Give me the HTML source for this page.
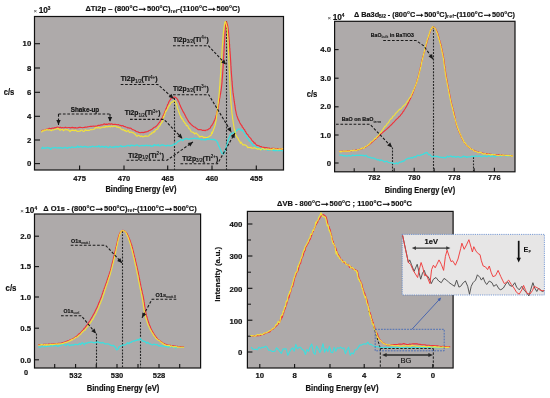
<!DOCTYPE html><html><head><meta charset="utf-8"><title>XPS difference spectra</title>
<style>html,body{margin:0;padding:0;background:#fff}svg{display:block;font-family:"Liberation Sans",sans-serif}</style></head><body>
<svg width="550" height="398" viewBox="0 0 550 398">
<rect width="550" height="398" fill="#fff"/>
<rect x="34.5" y="16.5" width="249.0" height="153.5" fill="#aeaaaa" stroke="#111" stroke-width="1.2"/>
<line x1="34.5" y1="163.6" x2="40.0" y2="163.6" stroke="#111" stroke-width="1.1"/>
<text x="31.3" y="166.29999999999998" font-size="7.8" text-anchor="end" font-weight="bold" fill="#111" stroke="#111" stroke-width="0.18" >0</text>
<line x1="34.5" y1="140" x2="40.0" y2="140" stroke="#111" stroke-width="1.1"/>
<text x="31.3" y="142.7" font-size="7.8" text-anchor="end" font-weight="bold" fill="#111" stroke="#111" stroke-width="0.18" >2</text>
<line x1="34.5" y1="116.3" x2="40.0" y2="116.3" stroke="#111" stroke-width="1.1"/>
<text x="31.3" y="119.0" font-size="7.8" text-anchor="end" font-weight="bold" fill="#111" stroke="#111" stroke-width="0.18" >4</text>
<line x1="34.5" y1="92.3" x2="40.0" y2="92.3" stroke="#111" stroke-width="1.1"/>
<text x="31.3" y="95.0" font-size="7.8" text-anchor="end" font-weight="bold" fill="#111" stroke="#111" stroke-width="0.18" >6</text>
<line x1="34.5" y1="68" x2="40.0" y2="68" stroke="#111" stroke-width="1.1"/>
<text x="31.3" y="70.7" font-size="7.8" text-anchor="end" font-weight="bold" fill="#111" stroke="#111" stroke-width="0.18" >8</text>
<line x1="34.5" y1="43.7" x2="40.0" y2="43.7" stroke="#111" stroke-width="1.1"/>
<text x="31.3" y="46.400000000000006" font-size="7.8" text-anchor="end" font-weight="bold" fill="#111" stroke="#111" stroke-width="0.18" >10</text>
<line x1="79.6" y1="170" x2="79.6" y2="165.5" stroke="#111" stroke-width="1.1"/>
<text x="79.6" y="180.6" font-size="7.8" text-anchor="middle" font-weight="bold" fill="#111" stroke="#111" stroke-width="0.18" textLength="12.6" lengthAdjust="spacingAndGlyphs" >475</text>
<line x1="124" y1="170" x2="124" y2="165.5" stroke="#111" stroke-width="1.1"/>
<text x="124" y="180.6" font-size="7.8" text-anchor="middle" font-weight="bold" fill="#111" stroke="#111" stroke-width="0.18" textLength="12.6" lengthAdjust="spacingAndGlyphs" >470</text>
<line x1="167.7" y1="170" x2="167.7" y2="165.5" stroke="#111" stroke-width="1.1"/>
<text x="167.7" y="180.6" font-size="7.8" text-anchor="middle" font-weight="bold" fill="#111" stroke="#111" stroke-width="0.18" textLength="12.6" lengthAdjust="spacingAndGlyphs" >465</text>
<line x1="212" y1="170" x2="212" y2="165.5" stroke="#111" stroke-width="1.1"/>
<text x="212" y="180.6" font-size="7.8" text-anchor="middle" font-weight="bold" fill="#111" stroke="#111" stroke-width="0.18" textLength="12.6" lengthAdjust="spacingAndGlyphs" >460</text>
<line x1="256.3" y1="170" x2="256.3" y2="165.5" stroke="#111" stroke-width="1.1"/>
<text x="256.3" y="180.6" font-size="7.8" text-anchor="middle" font-weight="bold" fill="#111" stroke="#111" stroke-width="0.18" textLength="12.6" lengthAdjust="spacingAndGlyphs" >455</text>
<text x="141" y="192" font-size="8.2" text-anchor="middle" font-weight="bold" fill="#111" stroke="#111" stroke-width="0.18" textLength="71" lengthAdjust="spacingAndGlyphs" >Binding Energy (eV)</text>
<text x="9" y="95.2" font-size="8.8" text-anchor="middle" font-weight="bold" fill="#111" stroke="#111" stroke-width="0.18" textLength="10.6" lengthAdjust="spacingAndGlyphs" >c/s</text>
<text x="33.6" y="13.3" font-size="8.3" font-weight="bold" fill="#111" stroke="#111" stroke-width="0.15"><tspan font-size="6.2" font-weight="normal" stroke="none" fill="#333">×</tspan><tspan dx="1.4">10</tspan><tspan font-size="4.8" dy="-3">3</tspan></text>
<text x="162.7" y="11.2" font-size="7.6" text-anchor="middle" font-weight="bold" fill="#111" stroke="#111" stroke-width="0.18" textLength="154.5" lengthAdjust="spacingAndGlyphs" >ΔTi2p – (800°C<tspan font-size="11.5" dx="-1.1" stroke-width="0.45">→</tspan><tspan dx="-1.1">5</tspan>00°C)<tspan font-size="5.6" dy="1.4" stroke-width="0" fill="#111">ref</tspan><tspan dy="-1.4">-(1100°C<tspan font-size="11.5" dx="-1.1" stroke-width="0.45">→</tspan><tspan dx="-1.1">5</tspan>00°C)</tspan></text>
<line x1="174.5" y1="98" x2="174.5" y2="170" stroke="#262626" stroke-width="1.1" stroke-dasharray="1.9 1.3"/>
<line x1="226.5" y1="21" x2="226.5" y2="170" stroke="#262626" stroke-width="1.1" stroke-dasharray="1.9 1.3"/>
<polyline points="41.5,149.1 42.5,147.3 43.5,148.4 44.5,148.0 45.5,148.0 46.5,148.1 47.5,147.4 48.5,148.0 49.6,147.8 50.6,149.4 51.6,148.1 52.6,147.9 53.6,147.9 54.6,147.7 55.6,147.5 56.6,147.8 57.6,148.1 58.6,147.7 59.6,148.2 60.6,147.7 61.6,147.8 62.6,148.3 63.6,147.9 64.7,147.4 65.7,147.5 66.7,147.8 67.7,148.3 68.7,147.3 69.7,147.3 70.7,147.8 71.7,147.0 72.7,147.2 73.7,147.6 74.7,147.4 75.7,147.2 76.7,147.4 77.7,145.9 78.7,147.4 79.7,146.6 80.8,146.3 81.8,147.0 82.8,147.2 83.8,146.7 84.8,146.4 85.8,146.8 86.8,146.7 87.8,147.3 88.8,147.0 89.8,146.7 90.8,147.1 91.8,146.5 92.8,146.2 93.8,146.8 94.9,146.8 95.9,146.5 96.9,146.3 97.9,146.8 98.9,145.7 99.9,147.0 100.9,147.0 101.9,146.2 102.9,147.0 103.9,146.6 104.9,147.4 105.9,146.3 106.9,146.8 107.9,147.5 108.9,147.7 109.9,146.3 111.0,147.0 112.0,147.3 113.0,146.8 114.0,147.6 115.0,146.4 116.0,147.0 117.0,146.3 118.0,147.2 119.0,146.5 120.0,146.3 121.0,145.6 122.0,146.9 123.0,146.4 124.0,146.4 125.0,146.5 126.0,146.1 127.0,145.7 128.0,145.5 129.0,145.5 130.0,146.3 131.0,145.2 132.1,145.5 133.1,145.5 134.1,145.7 135.1,145.8 136.1,145.1 137.1,144.9 138.1,145.5 139.1,146.0 140.1,145.8 141.1,145.6 142.1,145.4 143.1,145.6 144.1,145.4 145.1,145.8 146.2,145.1 147.2,145.5 148.2,145.4 149.2,145.7 150.2,145.5 151.2,146.5 152.2,146.0 153.2,146.0 154.2,144.6 155.2,145.3 156.2,145.2 157.2,145.6 158.2,144.5 159.2,145.9 160.3,145.8 161.3,144.9 162.3,145.0 163.3,145.0 164.3,145.4 165.3,145.6 166.3,146.1 167.3,145.2 168.3,145.6 169.3,145.3 170.3,145.9 171.3,145.4 172.4,145.5 173.3,144.4 174.2,144.4 175.1,143.6 175.9,143.9 176.7,142.9 177.5,141.9 178.3,141.2 179.2,141.1 180.1,140.2 181.0,139.7 182.0,140.0 182.9,140.6 183.9,139.4 184.9,139.1 185.9,138.7 187.0,138.6 188.0,139.2 189.0,139.3 190.0,138.8 191.0,138.9 192.0,138.7 193.0,138.7 194.0,138.0 195.0,138.4 196.0,138.7 197.0,138.4 198.0,138.7 199.0,138.8 200.0,139.2 201.0,139.8 202.0,139.4 203.0,139.5 204.0,139.9 205.0,139.7 206.0,140.0 207.0,138.3 208.0,139.4 209.0,138.8 210.0,139.1 211.1,139.4 212.1,139.5 213.1,139.5 214.0,139.3 214.9,140.2 215.8,140.1 216.5,140.9 217.1,142.1 217.6,142.4 218.0,144.4 218.5,144.9 218.8,146.3 219.2,146.4 219.5,147.2 219.9,148.3 220.3,149.5 220.6,149.9 221.0,151.3 221.5,152.0 222.1,153.5 222.9,153.4 223.6,154.1 224.1,152.7 224.6,151.5 225.1,150.6 225.4,149.4 225.7,149.0 226.0,148.4 226.2,147.1 226.5,146.3 226.8,145.7 227.0,144.2 227.3,143.2 227.6,142.0 227.9,140.5 228.2,140.5 228.5,138.6 228.8,138.6 229.2,137.3 229.6,136.8 230.0,135.5 230.5,134.3 231.2,134.0 232.0,133.1 233.0,132.9 233.9,132.6 234.8,132.2 235.7,131.6 236.4,130.7 237.3,130.3 238.1,128.9 239.0,129.4 240.1,129.1 241.1,130.3 242.0,130.7 242.7,129.9 243.4,131.6 243.9,132.4 244.5,132.9 245.0,134.4 245.5,134.8 246.0,135.2 246.5,136.7 247.1,137.5 247.7,138.5 248.3,138.8 248.9,140.3 249.5,141.1 250.2,141.2 250.8,142.1 251.5,143.1 252.2,143.6 253.0,145.2 253.8,145.3 254.5,145.4 255.4,146.1 256.2,146.9 257.1,148.3 258.0,147.7 259.0,148.1 260.0,148.6 260.9,148.6 261.9,149.7 262.9,148.8 263.9,149.4 264.9,149.3 265.9,149.6 266.9,149.0 267.9,150.3 268.9,149.7 269.9,149.9 270.9,149.6 271.9,149.7 272.9,150.3 273.9,150.5 274.9,150.5 275.9,150.7 277.0,150.5 278.0,150.3 279.0,150.7 280.0,150.6 281.0,150.3 282.0,150.7 283.0,150.9" fill="none" stroke="#3fdede" stroke-width="1.3" stroke-linejoin="round" />
<polyline points="41.5,130.6 42.5,130.2 43.4,130.2 44.4,130.2 45.4,129.5 46.4,129.3 47.4,129.1 48.3,129.2 49.3,128.3 50.3,128.6 51.3,128.6 52.3,128.0 53.3,128.3 54.3,127.9 55.3,127.5 56.3,127.6 57.3,127.1 58.3,127.3 59.3,127.8 60.3,127.2 61.3,127.9 62.3,127.5 63.3,127.8 64.3,127.7 65.3,127.2 66.3,127.6 67.3,127.8 68.3,127.5 69.3,127.5 70.3,127.9 71.3,127.6 72.3,127.4 73.3,127.6 74.3,127.9 75.3,127.6 76.3,127.9 77.3,128.0 78.3,127.6 79.3,127.4 80.3,127.3 81.4,127.5 82.4,127.7 83.4,127.5 84.4,127.4 85.4,127.1 86.4,127.2 87.4,126.9 88.4,126.8 89.4,126.5 90.4,126.3 91.4,126.4 92.3,126.2 93.3,126.1 94.3,126.3 95.3,126.0 96.3,126.5 97.3,125.8 98.3,125.3 99.3,125.4 100.3,125.1 101.2,124.7 102.2,124.9 103.2,124.4 104.2,123.8 105.2,124.5 106.2,124.1 107.2,124.4 108.2,123.9 109.2,123.7 110.2,124.3 111.2,123.8 112.2,124.1 113.2,124.5 114.3,124.3 115.3,124.4 116.3,124.5 117.3,124.8 118.2,124.6 119.2,125.1 120.2,125.2 121.2,125.9 122.1,125.6 123.1,125.8 124.0,126.5 125.0,126.6 125.9,127.0 126.9,127.3 127.8,127.9 128.8,127.8 129.7,128.3 130.7,128.1 131.6,128.8 132.5,129.7 133.5,129.7 134.4,130.2 135.3,130.6 136.2,131.5 137.1,131.8 138.1,131.9 139.0,132.5 140.0,132.6 140.9,132.7 142.0,132.3 143.0,132.7 144.0,132.4 145.0,132.1 146.0,131.9 146.9,131.7 147.8,131.5 148.7,130.7 149.6,130.5 150.5,129.9 151.4,129.6 152.3,129.0 153.1,128.3 154.0,127.4 154.8,127.3 155.6,126.8 156.4,126.0 157.1,125.4 157.8,124.5 158.4,123.7 159.0,122.8 159.6,122.5 160.1,121.3 160.6,120.3 161.1,119.3 161.6,118.7 162.1,118.1 162.6,117.0 163.0,115.9 163.4,115.4 163.8,114.5 164.2,113.5 164.6,112.5 165.0,111.6 165.3,110.6 165.7,109.7 166.1,108.4 166.5,108.0 166.8,106.8 167.2,106.2 167.6,104.4 168.0,104.1 168.4,103.2 168.8,102.0 169.2,101.3 169.7,100.5 170.3,99.6 170.9,98.6 171.7,98.0 172.5,97.7 173.4,97.3 174.4,97.0 175.4,97.3 176.2,97.9 176.9,98.7 177.4,99.2 177.9,100.1 178.3,101.3 178.8,101.9 179.2,102.9 179.6,104.0 180.0,105.0 180.3,105.6 180.7,107.0 181.1,107.3 181.5,108.7 181.9,109.2 182.4,110.1 182.9,111.4 183.4,112.1 183.9,112.9 184.4,113.8 184.9,114.9 185.4,115.7 185.8,116.6 186.2,117.7 186.7,118.2 187.2,119.2 187.7,120.0 188.3,121.2 188.9,122.0 189.5,122.8 190.1,123.3 190.8,124.0 191.5,124.9 192.3,125.3 193.1,126.2 193.9,126.7 194.8,127.0 195.6,127.7 196.5,128.2 197.4,129.1 198.3,129.7 199.2,129.5 200.2,129.8 201.1,129.6 202.1,130.4 203.1,130.4 204.1,130.2 205.1,130.7 206.1,130.0 207.1,130.0 208.0,129.6 208.8,128.8 209.6,128.6 210.3,127.9 210.9,126.5 211.5,125.7 212.0,125.3 212.6,124.3 213.1,123.2 213.5,122.5 213.9,121.6 214.3,120.7 214.7,120.0 215.1,118.9 215.4,118.3 215.7,117.2 216.0,116.1 216.3,115.3 216.6,114.3 216.8,113.2 217.1,111.8 217.3,111.3 217.5,110.2 217.8,109.5 218.0,108.2 218.2,107.3 218.3,106.3 218.5,105.6 218.7,104.3 218.9,103.2 219.0,102.3 219.2,101.2 219.4,100.3 219.5,99.3 219.7,98.4 219.9,97.7 220.1,96.2 220.2,95.3 220.4,94.3 220.6,93.5 220.8,92.1 220.9,91.2 221.1,90.4 221.2,89.5 221.4,88.4 221.5,87.3 221.6,86.2 221.7,85.5 221.8,84.7 221.9,83.5 222.0,82.5 222.1,81.5 222.1,80.2 222.2,79.3 222.3,78.3 222.4,77.5 222.5,76.4 222.5,75.1 222.6,74.6 222.7,73.8 222.7,72.3 222.8,71.5 222.9,70.4 222.9,69.6 223.0,68.1 223.1,67.7 223.1,66.3 223.2,65.7 223.2,64.4 223.3,63.3 223.4,62.3 223.4,61.6 223.5,60.2 223.5,59.3 223.6,58.3 223.6,57.0 223.7,56.6 223.8,55.5 223.8,54.3 223.9,53.6 223.9,52.1 224.0,51.3 224.0,50.7 224.1,49.6 224.1,47.8 224.2,46.6 224.3,46.1 224.3,45.6 224.4,44.2 224.4,43.3 224.5,42.5 224.5,41.1 224.6,40.4 224.6,39.5 224.7,38.4 224.7,37.4 224.8,36.2 224.8,35.4 224.9,34.2 225.0,33.6 225.1,32.9 225.1,31.1 225.2,29.8 225.3,29.1 225.4,28.0 225.5,26.8 225.6,25.5 225.7,23.9 225.9,22.9 226.0,22.6 226.2,21.6 226.4,22.2 226.8,22.7 227.2,24.1 227.5,25.2 227.7,26.2 227.9,27.2 228.0,27.8 228.1,29.0 228.3,30.0 228.4,31.1 228.5,32.3 228.6,32.9 228.7,33.8 228.7,34.9 228.8,36.0 228.9,37.2 229.0,37.8 229.1,39.3 229.2,40.1 229.3,41.0 229.3,41.7 229.4,43.1 229.5,44.2 229.6,44.6 229.6,46.3 229.7,47.4 229.8,48.1 229.9,49.1 229.9,50.6 230.0,51.3 230.1,51.8 230.1,53.0 230.2,54.0 230.3,55.0 230.3,55.5 230.4,57.2 230.5,57.9 230.5,59.1 230.6,60.0 230.7,61.3 230.7,62.0 230.8,62.9 230.8,64.2 230.9,65.4 231.0,66.0 231.0,67.4 231.1,68.1 231.1,69.0 231.2,70.4 231.3,70.9 231.3,72.3 231.4,73.0 231.5,74.2 231.5,74.8 231.6,75.9 231.7,77.3 231.8,78.1 231.8,79.1 231.9,80.0 232.0,81.2 232.1,81.8 232.2,82.9 232.2,84.1 232.3,84.9 232.4,85.9 232.5,87.1 232.6,88.1 232.7,89.0 232.8,90.5 232.9,91.3 233.0,92.4 233.1,93.1 233.2,94.0 233.4,94.8 233.5,96.0 233.6,96.6 233.8,97.9 233.9,99.2 234.1,100.4 234.2,101.3 234.4,101.9 234.5,103.1 234.7,103.9 234.8,105.2 235.0,106.0 235.1,107.2 235.3,108.6 235.4,109.2 235.6,110.5 235.8,111.0 236.0,111.9 236.2,113.2 236.4,114.3 236.7,114.8 236.9,115.9 237.2,116.5 237.6,117.7 238.0,118.9 238.4,119.6 238.8,120.4 239.2,121.1 239.7,122.4 240.2,123.4 240.7,124.2 241.2,125.0 241.8,125.5 242.3,127.0 242.8,127.4 243.4,128.3 243.9,129.3 244.5,129.5 245.0,130.8 245.6,131.6 246.1,132.6 246.7,133.7 247.2,134.3 247.8,134.6 248.4,135.7 249.0,136.6 249.7,137.4 250.3,137.9 250.9,138.6 251.6,139.8 252.2,140.6 252.8,141.3 253.5,141.7 254.2,143.2 254.9,142.9 255.6,144.0 256.5,145.1 257.4,145.2 258.3,145.7 259.2,145.8 260.1,146.7 261.1,146.5 262.0,147.1 263.0,147.3 264.0,147.3 265.0,147.9 266.0,147.5 267.0,147.8 268.0,148.1 269.0,148.1 270.0,148.4 271.0,148.5 272.0,148.3 273.0,148.3 274.0,148.4 275.0,148.5 276.0,148.8 277.0,148.6 278.0,148.8 279.0,148.8 280.0,148.6 281.0,149.0 282.0,148.7 283.0,148.9" fill="none" stroke="#f0323a" stroke-width="1.15" stroke-linejoin="round" />
<polyline points="41.5,132.3 42.6,130.7 43.7,131.0 44.8,129.9 45.8,130.3 46.9,129.6 48.0,130.1 49.1,129.8 50.2,130.0 51.3,130.7 52.4,129.9 53.5,130.0 54.6,129.5 55.7,129.3 56.8,128.9 57.9,128.3 59.0,129.3 60.1,130.3 61.2,129.7 62.3,129.3 63.4,130.7 64.5,129.7 65.6,129.8 66.7,129.6 67.8,129.9 68.9,130.3 70.0,131.6 71.1,130.5 72.2,130.1 73.3,130.4 74.4,130.7 75.5,130.0 76.6,131.0 77.7,131.4 78.8,131.2 79.9,131.3 81.0,130.3 82.1,130.0 83.2,131.5 84.3,131.3 85.4,129.7 86.5,130.5 87.6,130.3 88.7,130.4 89.8,130.1 90.9,129.5 92.0,129.7 93.1,129.5 94.2,129.2 95.3,128.0 96.3,127.2 97.4,128.1 98.5,127.4 99.6,128.1 100.6,128.1 101.7,127.6 102.8,127.0 103.9,127.1 105.0,127.4 106.0,126.2 107.1,126.9 108.2,126.6 109.3,126.3 110.4,127.0 111.5,125.9 112.7,126.9 113.8,125.9 114.8,126.2 115.9,126.2 117.0,127.3 118.0,126.9 119.1,127.8 120.1,127.6 121.2,129.1 122.2,129.9 123.2,129.4 124.3,130.6 125.3,130.4 126.3,131.7 127.4,131.0 128.4,130.5 129.4,132.6 130.4,132.1 131.4,132.0 132.4,132.7 133.4,132.7 134.4,134.0 135.4,134.1 136.3,136.0 137.3,136.1 138.3,135.2 139.4,135.8 140.4,136.6 141.5,135.9 142.6,136.8 143.7,136.7 144.8,136.1 145.9,135.9 146.9,136.2 147.9,136.2 148.9,135.7 149.9,134.4 150.8,134.3 151.8,132.9 152.8,133.0 153.7,131.6 154.6,131.9 155.4,130.1 156.3,129.5 157.0,129.3 157.8,128.8 158.5,126.8 159.1,126.4 159.7,125.9 160.3,125.0 160.9,123.4 161.5,123.0 162.0,121.8 162.5,121.8 162.9,120.3 163.2,118.2 163.5,116.6 163.8,116.8 164.1,116.4 164.4,114.8 164.9,114.1 165.3,112.4 165.8,110.9 166.4,111.1 166.9,109.8 167.5,109.2 168.0,107.0 168.6,106.9 169.1,105.5 169.7,105.4 170.3,103.7 171.0,102.8 171.7,102.0 172.5,102.2 173.5,100.9 174.5,100.8 175.3,101.4 175.8,102.2 176.2,104.6 176.6,103.9 176.9,105.6 177.2,107.5 177.6,108.8 178.0,109.2 178.4,110.7 178.8,111.7 179.1,112.9 179.5,113.4 180.0,115.3 180.4,115.5 180.8,117.3 181.3,116.8 181.8,119.0 182.3,118.7 182.9,119.5 183.5,121.5 184.2,121.7 184.9,123.2 185.6,123.2 186.3,125.6 187.0,125.6 187.7,125.8 188.4,127.4 189.0,128.7 189.7,128.7 190.4,130.2 191.2,131.8 192.0,132.0 192.8,132.2 193.7,132.6 194.6,133.9 195.5,133.3 196.5,133.0 197.5,134.8 198.5,135.0 199.5,137.0 200.5,136.6 201.5,136.4 202.6,136.5 203.7,137.7 204.8,137.2 205.9,137.4 206.9,137.5 208.0,137.1 209.0,136.5 209.8,135.9 210.5,135.7 211.2,135.0 211.8,132.2 212.3,133.5 212.8,131.2 213.3,130.8 213.7,128.7 214.1,128.3 214.5,127.2 214.8,126.0 215.1,125.4 215.4,124.2 215.6,122.2 215.8,121.6 216.0,121.0 216.2,119.9 216.4,118.2 216.5,117.2 216.7,116.1 216.8,114.5 216.9,113.3 217.0,113.8 217.2,111.6 217.3,110.8 217.4,109.2 217.5,109.2 217.6,108.4 217.7,106.2 217.9,105.5 218.0,103.7 218.1,104.0 218.3,102.5 218.4,100.4 218.5,100.4 218.6,98.9 218.8,97.8 218.9,96.7 219.0,95.0 219.1,94.0 219.2,93.5 219.3,92.0 219.4,90.4 219.4,91.0 219.5,88.6 219.6,87.3 219.7,86.2 219.8,85.8 219.9,84.9 219.9,83.4 220.0,82.6 220.1,80.2 220.2,79.7 220.2,78.6 220.3,77.7 220.4,76.9 220.5,74.4 220.5,76.1 220.6,72.8 220.7,72.4 220.8,71.6 220.8,70.5 220.9,69.0 221.0,66.2 221.0,66.1 221.1,66.0 221.2,64.0 221.3,62.8 221.3,61.0 221.4,61.9 221.5,60.4 221.5,58.5 221.6,57.8 221.7,56.7 221.8,55.0 221.8,54.4 221.9,53.6 222.0,52.7 222.0,51.9 222.1,50.2 222.2,48.8 222.3,48.2 222.3,46.5 222.4,45.0 222.5,45.3 222.6,43.3 222.7,42.5 222.8,41.7 222.8,39.6 222.9,39.5 223.0,38.3 223.1,36.9 223.2,36.0 223.3,34.3 223.4,32.4 223.5,32.4 223.6,30.9 223.7,30.8 223.8,29.4 224.0,27.8 224.1,26.9 224.3,26.2 224.5,24.7 224.8,23.0 225.0,22.2 225.3,21.5 225.7,22.1 226.1,23.7 226.4,24.6 226.6,25.9 226.8,26.2 226.9,27.0 227.1,28.1 227.2,29.9 227.3,32.0 227.4,33.0 227.5,32.9 227.6,33.7 227.6,36.1 227.7,37.0 227.8,37.1 227.9,39.6 227.9,40.2 228.0,41.9 228.1,42.5 228.1,43.9 228.2,44.7 228.2,45.1 228.3,46.6 228.3,47.4 228.4,49.4 228.4,49.5 228.5,50.3 228.5,52.6 228.6,54.0 228.6,55.2 228.7,56.1 228.7,55.8 228.8,57.4 228.8,58.6 228.9,59.9 228.9,59.9 229.0,62.2 229.0,63.4 229.1,63.8 229.1,65.5 229.2,67.2 229.2,67.7 229.3,69.4 229.3,70.4 229.4,71.2 229.4,72.3 229.5,73.0 229.5,75.0 229.6,75.2 229.6,76.1 229.7,78.0 229.7,78.3 229.7,80.1 229.8,81.5 229.8,82.1 229.9,83.2 229.9,84.7 230.0,85.8 230.0,85.6 230.1,86.8 230.1,89.4 230.2,90.0 230.2,89.7 230.3,91.2 230.4,93.1 230.4,93.6 230.5,95.5 230.6,96.4 230.7,97.7 230.7,97.9 230.8,100.0 230.9,101.9 231.0,101.4 231.1,103.7 231.2,104.6 231.3,105.5 231.4,106.3 231.5,106.8 231.6,108.0 231.7,110.0 231.8,111.2 231.9,112.5 232.0,113.4 232.1,114.5 232.2,114.9 232.4,115.5 232.5,117.4 232.6,118.7 232.8,119.5 232.9,119.7 233.1,121.4 233.2,121.9 233.4,123.9 233.6,124.4 233.8,126.0 234.0,127.3 234.2,128.3 234.5,130.1 234.7,129.8 235.0,130.2 235.3,133.0 235.6,134.3 235.9,135.4 236.4,135.8 236.8,136.9 237.3,137.7 237.8,137.9 238.4,139.2 239.0,140.7 239.7,141.0 240.4,143.3 241.2,142.2 242.0,143.5 242.9,145.0 243.8,144.7 244.8,144.9 245.8,145.3 246.8,146.0 247.8,147.6 248.9,147.3 250.0,147.7 251.0,147.4 252.1,148.3 253.2,148.1 254.3,147.7 255.4,148.1 256.5,148.6 257.6,149.2 258.7,148.7 259.8,149.1 260.9,150.0 262.0,148.5 263.1,148.3 264.2,149.6 265.3,149.3 266.4,149.1 267.5,149.3 268.6,149.0 269.7,149.5 270.8,149.0 272.0,149.7 273.1,148.6 274.2,148.8 275.3,149.3 276.4,149.0 277.5,149.6 278.6,149.2 279.7,148.9 280.8,149.3 281.9,148.9 283.0,148.4" fill="none" stroke="#f2e23a" stroke-width="1.15" stroke-linejoin="round" />
<text x="173" y="41.6" font-size="7.1" text-anchor="start" font-weight="bold" fill="#111" stroke="#111" stroke-width="0.18" textLength="35.7" lengthAdjust="spacingAndGlyphs" >Ti2p<tspan font-size="4.8" dy="1.4" stroke-width="0">3/2</tspan><tspan dy="-1.4">(Ti</tspan><tspan font-size="4.8" dy="-2.6" stroke-width="0">4+</tspan><tspan dy="2.6">)</tspan></text>
<polyline points="173.0,45.8 208.5,45.8 226.0,64.6" fill="none" stroke="#1a1a1a" stroke-width="1.1" stroke-dasharray="2.7 1.7"/>
<polygon points="226.0,64.6 221.1,62.5 224.3,59.6" fill="#1a1a1a"/>
<text x="120.7" y="81.2" font-size="7.1" text-anchor="start" font-weight="bold" fill="#111" stroke="#111" stroke-width="0.18" textLength="37" lengthAdjust="spacingAndGlyphs" >Ti2p<tspan font-size="4.8" dy="1.4" stroke-width="0">1/2</tspan><tspan dy="-1.4">(Ti</tspan><tspan font-size="4.8" dy="-2.6" stroke-width="0">4+</tspan><tspan dy="2.6">)</tspan></text>
<polyline points="120.7,84.5 157.8,84.5 173.6,98.6" fill="none" stroke="#1a1a1a" stroke-width="1.1" stroke-dasharray="2.7 1.7"/>
<polygon points="173.6,98.6 168.6,97.0 171.4,93.8" fill="#1a1a1a"/>
<text x="173" y="90.7" font-size="7.1" text-anchor="start" font-weight="bold" fill="#111" stroke="#111" stroke-width="0.18" textLength="35.7" lengthAdjust="spacingAndGlyphs" >Ti2p<tspan font-size="4.8" dy="1.4" stroke-width="0">3/2</tspan><tspan dy="-1.4">(Ti</tspan><tspan font-size="4.8" dy="-2.6" stroke-width="0">3+</tspan><tspan dy="2.6">)</tspan></text>
<polyline points="173.0,94.7 208.7,94.7 231.4,132.2" fill="none" stroke="#1a1a1a" stroke-width="1.1" stroke-dasharray="2.7 1.7"/>
<polygon points="231.4,132.2 227.0,129.2 230.7,126.9" fill="#1a1a1a"/>
<text x="124.7" y="115.2" font-size="7.1" text-anchor="start" font-weight="bold" fill="#111" stroke="#111" stroke-width="0.18" textLength="35.7" lengthAdjust="spacingAndGlyphs" >Ti2p<tspan font-size="4.8" dy="1.4" stroke-width="0">1/2</tspan><tspan dy="-1.4">(Ti</tspan><tspan font-size="4.8" dy="-2.6" stroke-width="0">3+</tspan><tspan dy="2.6">)</tspan></text>
<polyline points="130.0,119.4 164.0,119.4 182.4,138.6" fill="none" stroke="#1a1a1a" stroke-width="1.1" stroke-dasharray="2.7 1.7"/>
<polygon points="182.4,138.6 177.5,136.6 180.6,133.6" fill="#1a1a1a"/>
<text x="128.3" y="157.5" font-size="7.1" text-anchor="start" font-weight="bold" fill="#111" stroke="#111" stroke-width="0.18" textLength="35.7" lengthAdjust="spacingAndGlyphs" >Ti2p<tspan font-size="4.8" dy="1.4" stroke-width="0">1/2</tspan><tspan dy="-1.4">(Ti</tspan><tspan font-size="4.8" dy="-2.6" stroke-width="0">2+</tspan><tspan dy="2.6">)</tspan></text>
<polyline points="126.5,160.3 167.0,160.3 193.0,141.9" fill="none" stroke="#1a1a1a" stroke-width="1.1" stroke-dasharray="2.7 1.7"/>
<polygon points="193.0,141.9 190.3,146.5 187.8,142.9" fill="#1a1a1a"/>
<text x="182.2" y="160.5" font-size="7.1" text-anchor="start" font-weight="bold" fill="#111" stroke="#111" stroke-width="0.18" textLength="36" lengthAdjust="spacingAndGlyphs" >Ti2p<tspan font-size="4.8" dy="1.4" stroke-width="0">3/2</tspan><tspan dy="-1.4">(Ti</tspan><tspan font-size="4.8" dy="-2.6" stroke-width="0">2+</tspan><tspan dy="2.6">)</tspan></text>
<polyline points="180.5,163.8 217.5,163.8 235.0,133.0" fill="none" stroke="#1a1a1a" stroke-width="1.1" stroke-dasharray="2.7 1.7"/>
<polygon points="235.0,133.0 234.5,138.3 230.7,136.1" fill="#1a1a1a"/>
<text x="85" y="111.8" font-size="6.6" text-anchor="middle" font-weight="bold" fill="#111" stroke="#111" stroke-width="0.18" textLength="28.5" lengthAdjust="spacingAndGlyphs" >Shake-up</text>
<polyline points="58.5,114.0 58.5,124.9" fill="none" stroke="#1a1a1a" stroke-width="1.1" stroke-dasharray="2.7 1.7"/>
<polygon points="58.5,124.9 56.3,120.1 60.7,120.1" fill="#1a1a1a"/>
<polyline points="110.0,114.0 110.0,121.8" fill="none" stroke="#1a1a1a" stroke-width="1.1" stroke-dasharray="2.7 1.7"/>
<polygon points="110.0,121.8 107.8,117.0 112.2,117.0" fill="#1a1a1a"/>
<line x1="58.5" y1="114" x2="110" y2="114" stroke="#1a1a1a" stroke-width="1.0" stroke-dasharray="2.7 1.7"/>
<rect x="334.6" y="21.3" width="180.39999999999998" height="150.5" fill="#aeaaaa" stroke="#111" stroke-width="1.2"/>
<line x1="334.6" y1="163" x2="338.6" y2="163" stroke="#111" stroke-width="1.1"/>
<text x="331.0" y="165.6" font-size="7.8" text-anchor="end" font-weight="bold" fill="#111" stroke="#111" stroke-width="0.18" >0</text>
<line x1="334.6" y1="135" x2="338.6" y2="135" stroke="#111" stroke-width="1.1"/>
<text x="331.0" y="137.6" font-size="7.8" text-anchor="end" font-weight="bold" fill="#111" stroke="#111" stroke-width="0.18" >1.0</text>
<line x1="334.6" y1="106.8" x2="338.6" y2="106.8" stroke="#111" stroke-width="1.1"/>
<text x="331.0" y="109.39999999999999" font-size="7.8" text-anchor="end" font-weight="bold" fill="#111" stroke="#111" stroke-width="0.18" >2.0</text>
<line x1="334.6" y1="78.2" x2="338.6" y2="78.2" stroke="#111" stroke-width="1.1"/>
<text x="331.0" y="80.8" font-size="7.8" text-anchor="end" font-weight="bold" fill="#111" stroke="#111" stroke-width="0.18" >3.0</text>
<line x1="334.6" y1="49.6" x2="338.6" y2="49.6" stroke="#111" stroke-width="1.1"/>
<text x="331.0" y="52.2" font-size="7.8" text-anchor="end" font-weight="bold" fill="#111" stroke="#111" stroke-width="0.18" >4.0</text>
<line x1="354.2" y1="171.8" x2="354.2" y2="168.20000000000002" stroke="#111" stroke-width="1.0"/>
<line x1="394.2" y1="171.8" x2="394.2" y2="168.20000000000002" stroke="#111" stroke-width="1.0"/>
<line x1="434.2" y1="171.8" x2="434.2" y2="168.20000000000002" stroke="#111" stroke-width="1.0"/>
<line x1="474.2" y1="171.8" x2="474.2" y2="168.20000000000002" stroke="#111" stroke-width="1.0"/>
<line x1="374.2" y1="171.8" x2="374.2" y2="167.8" stroke="#111" stroke-width="1.1"/>
<text x="374.2" y="180.2" font-size="7.8" text-anchor="middle" font-weight="bold" fill="#111" stroke="#111" stroke-width="0.18" textLength="12.6" lengthAdjust="spacingAndGlyphs" >782</text>
<line x1="414.2" y1="171.8" x2="414.2" y2="167.8" stroke="#111" stroke-width="1.1"/>
<text x="414.2" y="180.2" font-size="7.8" text-anchor="middle" font-weight="bold" fill="#111" stroke="#111" stroke-width="0.18" textLength="12.6" lengthAdjust="spacingAndGlyphs" >780</text>
<line x1="454.2" y1="171.8" x2="454.2" y2="167.8" stroke="#111" stroke-width="1.1"/>
<text x="454.2" y="180.2" font-size="7.8" text-anchor="middle" font-weight="bold" fill="#111" stroke="#111" stroke-width="0.18" textLength="12.6" lengthAdjust="spacingAndGlyphs" >778</text>
<line x1="494.4" y1="171.8" x2="494.4" y2="167.8" stroke="#111" stroke-width="1.1"/>
<text x="494.4" y="180.2" font-size="7.8" text-anchor="middle" font-weight="bold" fill="#111" stroke="#111" stroke-width="0.18" textLength="12.6" lengthAdjust="spacingAndGlyphs" >776</text>
<text x="420" y="192.6" font-size="8.2" text-anchor="middle" font-weight="bold" fill="#111" stroke="#111" stroke-width="0.18" textLength="70.5" lengthAdjust="spacingAndGlyphs" >Binding Energy (eV)</text>
<text x="312" y="96.8" font-size="8.8" text-anchor="middle" font-weight="bold" fill="#111" stroke="#111" stroke-width="0.18" textLength="10.6" lengthAdjust="spacingAndGlyphs" >c/s</text>
<text x="327.6" y="19.9" font-size="8.3" font-weight="bold" fill="#111" stroke="#111" stroke-width="0.15"><tspan font-size="6.2" font-weight="normal" stroke="none" fill="#333">×</tspan><tspan dx="1.4">10</tspan><tspan font-size="4.8" dy="-3">4</tspan></text>
<text x="434.4" y="17" font-size="7.6" text-anchor="middle" font-weight="bold" fill="#111" stroke="#111" stroke-width="0.18" textLength="161" lengthAdjust="spacingAndGlyphs" >Δ Ba3d<tspan font-size="5" dy="1.4">5/2</tspan><tspan dy="-1.4"> - (800°C<tspan font-size="11.5" dx="-1.1" stroke-width="0.45">→</tspan><tspan dx="-1.1">5</tspan>00°C)</tspan><tspan font-size="5.6" dy="1.4" stroke-width="0" fill="#111">ref</tspan><tspan dy="-1.4">-(1100°C<tspan font-size="11.5" dx="-1.1" stroke-width="0.45">→</tspan><tspan dx="-1.1">5</tspan>00°C)</tspan></text>
<line x1="392.5" y1="147.4" x2="392.5" y2="171.8" stroke="#262626" stroke-width="1.1" stroke-dasharray="1.9 1.3"/>
<line x1="433.5" y1="26.5" x2="433.5" y2="171.8" stroke="#262626" stroke-width="1.1" stroke-dasharray="1.9 1.3"/>
<line x1="473.5" y1="157" x2="473.5" y2="171.8" stroke="#262626" stroke-width="1.1" stroke-dasharray="1.9 1.3"/>
<polyline points="339.3,155.0 340.5,155.1 341.7,155.2 342.9,155.5 344.2,155.8 345.4,155.6 346.6,156.1 347.8,155.9 349.0,155.3 350.2,156.1 351.5,155.8 352.7,155.1 353.9,155.4 355.1,155.6 356.3,155.2 357.5,155.4 358.7,155.2 360.0,155.3 361.2,155.1 362.4,155.5 363.6,155.4 364.8,156.0 366.0,155.3 367.1,156.4 368.3,157.2 369.4,157.3 370.6,157.5 371.8,158.1 372.9,157.9 374.1,158.3 375.2,158.8 376.4,159.2 377.6,160.0 378.8,159.6 379.9,160.7 381.1,159.9 382.3,160.5 383.5,161.1 384.7,161.9 385.8,161.4 387.0,161.1 388.2,162.4 389.4,162.6 390.6,162.6 391.7,162.9 392.9,163.2 394.1,163.5 395.3,163.7 396.5,162.7 397.7,163.9 398.9,162.6 400.0,162.1 401.2,162.0 402.2,161.2 403.3,161.6 404.5,160.6 405.6,159.5 406.7,159.0 407.8,158.5 409.0,158.2 410.1,158.3 411.3,157.5 412.5,158.1 413.7,157.1 414.8,156.7 416.0,156.8 417.2,155.3 418.4,155.4 419.5,155.7 420.7,155.1 421.8,154.6 423.0,154.4 424.1,153.5 425.3,153.2 426.4,152.5 427.4,152.7 428.5,154.8 429.5,154.5 430.6,155.3 431.7,156.7 432.8,156.8 434.0,156.2 435.3,156.3 436.5,156.5 437.7,156.3 438.9,157.1 440.1,157.1 441.3,157.3 442.5,157.5 443.7,157.4 444.9,157.8 446.2,157.5 447.4,156.1 448.6,157.0 449.8,156.2 451.0,156.1 452.2,157.0 453.4,156.5 454.7,156.7 455.9,157.4 457.1,156.7 458.3,156.7 459.5,157.1 460.7,157.5 461.9,157.1 463.2,156.2 464.4,156.5 465.6,156.6 466.8,157.4 468.0,156.9 469.2,156.8 470.4,156.9 471.7,156.2 472.9,156.5 474.1,156.5 475.3,155.9 476.5,156.2 477.7,156.4 479.0,155.8 480.2,156.5 481.4,156.5 482.6,156.5 483.8,155.8 485.0,156.1 486.3,156.7 487.5,156.4 488.7,155.7 489.9,156.1 491.1,156.6 492.3,155.9 493.5,156.1 494.8,157.0 496.0,155.9 497.2,155.8 498.4,155.5 499.6,155.6 500.8,156.4 502.1,155.7 503.3,155.3 504.5,155.4 505.7,155.7 506.9,156.0 508.1,155.4 509.4,156.0 510.6,155.5 511.8,155.8 513.0,155.8" fill="none" stroke="#3fdede" stroke-width="1.3" stroke-linejoin="round" />
<polyline points="339.3,151.4 340.1,151.2 340.9,151.2 341.7,151.3 342.5,151.0 343.3,151.2 344.1,151.2 344.9,151.2 345.7,151.0 346.5,151.0 347.3,151.0 348.1,150.8 348.9,150.8 349.7,150.8 350.5,150.8 351.3,150.5 352.2,150.6 353.0,150.3 353.8,150.5 354.6,150.3 355.4,150.3 356.1,150.0 356.9,150.0 357.7,149.9 358.5,149.8 359.3,149.4 360.1,149.4 360.8,149.0 361.6,148.7 362.4,148.6 363.1,148.2 363.8,147.9 364.5,147.5 365.3,147.2 366.0,146.8 366.6,146.3 367.3,145.8 368.0,145.4 368.7,145.0 369.3,144.7 369.9,144.0 370.6,143.7 371.2,143.0 371.8,142.4 372.4,142.0 373.0,141.3 373.5,140.9 374.1,140.4 374.7,139.7 375.3,139.2 375.9,138.9 376.5,138.1 377.1,137.6 377.7,137.1 378.3,136.5 378.9,135.9 379.5,135.5 380.1,134.6 380.7,134.5 381.3,133.7 381.9,133.1 382.5,132.8 383.1,132.2 383.7,131.6 384.3,131.2 385.0,130.5 385.6,130.1 386.2,129.4 386.8,129.0 387.4,128.6 387.9,128.0 388.5,127.5 389.1,127.0 389.7,126.3 390.3,125.7 390.8,125.2 391.4,124.8 392.0,124.1 392.5,123.5 393.1,122.9 393.6,122.4 394.2,121.8 394.7,121.2 395.3,120.6 395.9,119.9 396.4,119.3 397.0,118.9 397.5,118.4 398.1,117.8 398.7,117.1 399.3,116.5 399.8,116.1 400.4,115.5 400.9,114.6 401.4,114.3 401.9,113.6 402.3,113.1 402.8,112.1 403.3,111.4 403.8,111.0 404.2,110.0 404.6,109.5 405.1,108.8 405.5,108.1 405.9,107.3 406.3,106.8 406.6,106.2 407.0,105.4 407.4,104.7 407.8,103.9 408.1,103.4 408.5,102.6 408.8,101.9 409.2,100.9 409.6,100.4 409.9,99.5 410.3,99.0 410.6,98.2 411.0,97.3 411.3,96.8 411.6,96.1 411.9,95.3 412.3,94.6 412.6,93.7 412.9,93.0 413.2,92.2 413.5,91.6 413.7,90.9 414.0,90.1 414.3,89.3 414.6,88.4 414.8,87.8 415.1,87.0 415.4,86.0 415.6,85.3 415.9,84.7 416.1,83.8 416.3,83.4 416.6,82.4 416.8,81.5 417.0,80.8 417.2,80.3 417.4,79.2 417.7,78.6 417.9,77.8 418.1,77.2 418.3,76.3 418.5,75.4 418.7,74.7 418.9,73.9 419.1,73.2 419.3,72.3 419.5,71.8 419.7,70.8 419.8,70.0 420.0,69.1 420.2,68.4 420.4,67.6 420.5,66.9 420.7,66.2 420.9,65.2 421.1,64.4 421.2,63.8 421.4,62.9 421.6,62.1 421.8,61.5 422.0,60.7 422.1,59.5 422.3,59.0 422.5,58.3 422.7,57.6 422.9,56.6 423.2,56.1 423.4,55.0 423.6,54.3 423.8,53.6 424.0,52.8 424.3,52.1 424.5,51.4 424.8,50.5 425.0,49.9 425.2,48.9 425.4,48.2 425.6,47.6 425.8,46.6 426.0,46.0 426.2,45.0 426.4,44.3 426.6,43.5 426.8,42.8 427.0,41.9 427.2,41.2 427.4,40.5 427.7,39.8 427.9,38.9 428.1,38.2 428.3,37.4 428.6,36.4 428.8,35.6 429.1,35.2 429.3,34.4 429.6,33.5 429.8,32.8 430.1,31.9 430.4,31.1 430.7,30.5 431.0,29.6 431.4,29.1 431.8,28.2 432.3,27.7 432.9,27.3 433.5,27.0 434.2,27.2 434.8,28.0 435.3,28.4 435.8,29.1 436.2,29.9 436.6,30.8 436.9,31.3 437.2,32.1 437.5,32.8 437.7,33.4 438.0,34.3 438.2,35.3 438.4,35.9 438.7,36.7 438.9,37.5 439.1,38.1 439.3,39.1 439.5,39.9 439.8,40.7 440.0,41.5 440.2,42.0 440.4,42.8 440.6,43.5 440.8,44.3 441.0,45.1 441.2,46.1 441.4,46.9 441.5,47.5 441.7,48.4 441.9,49.0 442.1,49.9 442.2,50.6 442.4,51.3 442.6,52.3 442.7,53.1 442.9,53.8 443.0,54.6 443.2,55.3 443.3,56.2 443.5,56.9 443.6,57.8 443.7,58.4 443.9,59.4 444.0,60.2 444.1,61.1 444.2,61.9 444.3,62.6 444.4,63.3 444.5,63.9 444.6,64.9 444.7,65.9 444.8,66.7 444.9,67.0 445.0,68.0 445.1,68.9 445.3,69.6 445.4,70.5 445.5,71.3 445.6,72.1 445.7,72.9 445.8,73.5 445.9,74.4 446.1,75.2 446.2,76.2 446.4,76.7 446.5,77.6 446.6,78.5 446.8,79.2 446.9,80.1 447.1,80.7 447.2,81.7 447.4,82.5 447.5,83.5 447.7,84.1 447.8,84.9 448.0,85.6 448.1,86.4 448.3,87.3 448.4,88.0 448.6,88.9 448.8,89.6 448.9,90.5 449.1,91.4 449.2,91.8 449.4,92.9 449.5,93.5 449.7,94.3 449.8,95.0 450.0,95.9 450.1,96.5 450.3,97.3 450.4,98.1 450.6,99.0 450.7,99.9 450.9,100.6 451.1,101.4 451.3,102.0 451.4,102.7 451.6,103.7 451.8,104.5 452.0,105.3 452.2,106.2 452.4,106.8 452.6,107.6 452.8,108.1 453.0,109.2 453.2,109.9 453.4,110.6 453.6,111.5 453.8,112.1 454.0,113.0 454.2,114.0 454.4,114.7 454.6,115.5 454.7,116.3 454.9,117.0 455.1,117.8 455.2,118.8 455.3,119.3 455.5,120.2 455.6,120.9 455.8,121.7 455.9,122.2 456.1,123.1 456.3,124.2 456.5,125.0 456.7,125.5 456.9,126.4 457.2,127.2 457.5,127.7 457.8,128.8 458.1,129.2 458.4,130.0 458.7,130.5 459.0,131.8 459.3,132.3 459.7,133.3 460.0,133.7 460.3,134.6 460.6,135.3 460.9,136.0 461.3,137.0 461.6,137.7 462.0,138.4 462.4,138.9 462.7,139.7 463.1,140.5 463.5,141.1 463.9,141.8 464.4,142.5 464.8,143.0 465.3,143.7 465.8,144.5 466.3,144.8 466.9,145.5 467.5,146.2 468.1,146.5 468.7,147.1 469.3,147.4 469.9,148.0 470.6,148.4 471.3,148.9 472.0,149.4 472.7,149.8 473.4,150.1 474.1,150.2 474.9,151.0 475.6,151.1 476.4,151.3 477.1,151.7 477.9,152.0 478.7,152.1 479.4,152.3 480.2,152.5 481.0,152.8 481.8,152.8 482.6,153.1 483.4,153.2 484.2,153.3 485.0,153.5 485.8,153.5 486.6,153.5 487.4,153.8 488.2,153.9 489.0,154.0 489.8,154.1 490.6,154.5 491.3,154.4 492.1,154.5 492.9,154.5 493.7,154.7 494.5,154.6 495.3,154.6 496.1,154.6 496.9,154.9 497.7,155.0 498.6,154.7 499.4,154.9 500.2,155.1 501.0,155.2 501.8,154.9 502.6,155.1 503.4,155.3 504.2,155.2 505.0,155.2 505.8,155.3 506.6,155.2 507.4,155.4 508.2,155.5 509.0,155.3 509.8,155.6 510.6,155.7 511.4,155.6 512.2,155.8 513.0,155.6" fill="none" stroke="#f0323a" stroke-width="1.1" stroke-linejoin="round" />
<polyline points="339.3,151.9 340.1,151.2 340.9,152.0 341.7,151.3 342.5,151.2 343.3,151.1 344.1,151.2 344.9,151.1 345.7,151.0 346.5,151.1 347.3,151.3 348.1,151.4 348.9,150.9 349.7,151.4 350.5,150.6 351.3,150.5 352.1,150.4 353.0,150.9 353.8,150.1 354.6,150.1 355.3,150.8 356.1,150.8 356.9,150.5 357.7,149.5 358.5,149.8 359.3,149.8 360.0,149.4 360.8,148.6 361.6,148.7 362.3,148.0 363.0,147.8 363.8,148.5 364.5,147.7 365.2,146.6 365.8,146.2 366.5,146.3 367.2,145.5 367.8,145.4 368.5,144.6 369.1,144.2 369.7,143.8 370.3,142.9 370.9,142.1 371.5,141.8 372.1,141.4 372.7,140.9 373.2,140.4 373.8,139.8 374.3,139.4 374.9,138.4 375.5,138.5 376.1,138.2 376.6,137.1 377.2,136.5 377.8,136.2 378.3,135.5 378.9,134.8 379.4,134.1 379.9,133.3 380.4,132.5 380.9,132.4 381.4,132.0 381.9,130.6 382.4,130.3 382.8,129.7 383.3,128.9 383.8,128.1 384.2,127.6 384.7,126.4 385.2,126.4 385.7,125.7 386.1,125.7 386.6,124.7 387.1,123.7 387.6,123.2 388.1,123.0 388.6,122.4 389.1,121.3 389.6,120.6 390.1,119.6 390.6,119.3 391.1,118.7 391.7,118.0 392.2,118.1 392.7,116.4 393.2,116.3 393.8,115.9 394.3,115.3 394.8,115.1 395.4,113.5 395.9,113.1 396.5,112.8 397.0,112.2 397.5,111.5 398.1,110.8 398.6,110.7 399.2,109.5 399.8,109.1 400.4,109.2 401.0,108.8 401.7,108.0 402.3,107.0 402.9,106.5 403.5,105.9 404.1,105.3 404.6,104.9 405.2,104.8 405.7,103.9 406.2,103.0 406.7,102.3 407.1,101.6 407.6,101.6 408.1,100.0 408.5,100.0 408.9,98.8 409.4,98.3 409.8,97.5 410.2,97.5 410.6,96.5 411.0,96.6 411.3,94.8 411.7,94.0 412.1,93.8 412.4,93.1 412.7,92.1 413.0,90.8 413.4,91.1 413.7,90.2 414.0,89.4 414.3,88.3 414.6,88.0 414.9,86.9 415.2,86.3 415.5,85.5 415.8,85.1 416.1,83.9 416.4,83.2 416.6,82.8 416.9,81.8 417.1,81.0 417.3,80.1 417.6,79.7 417.8,78.5 418.0,78.0 418.2,77.7 418.5,76.5 418.7,75.3 418.9,74.4 419.1,74.0 419.3,72.9 419.5,72.0 419.7,71.4 419.9,70.6 420.1,70.4 420.2,68.9 420.4,69.0 420.6,67.5 420.8,67.0 421.0,66.4 421.1,65.5 421.3,64.8 421.5,63.5 421.6,62.4 421.8,62.2 422.0,61.0 422.1,60.5 422.3,60.2 422.5,59.1 422.7,58.2 422.9,57.2 423.1,56.7 423.3,55.9 423.4,54.7 423.6,54.5 423.8,53.3 424.0,52.9 424.1,51.9 424.3,51.6 424.5,50.8 424.7,49.7 424.8,48.9 425.0,48.3 425.2,47.8 425.4,46.9 425.6,45.9 425.8,45.1 426.0,44.7 426.3,43.0 426.5,42.9 426.7,41.7 426.9,41.6 427.1,40.3 427.3,39.6 427.6,38.5 427.8,38.1 428.0,37.6 428.3,37.1 428.5,35.4 428.7,34.9 429.0,35.4 429.3,33.8 429.5,32.7 429.8,32.2 430.1,30.5 430.4,31.0 430.8,29.8 431.1,28.6 431.5,28.7 432.0,27.5 432.6,26.7 433.3,27.0 433.9,27.3 434.5,27.8 435.0,28.5 435.4,28.8 435.8,29.5 436.2,30.9 436.5,31.8 436.8,32.2 437.1,33.0 437.3,33.5 437.6,34.4 437.8,34.9 438.0,36.5 438.3,36.6 438.5,37.6 438.7,38.3 438.9,38.6 439.2,40.4 439.4,40.5 439.6,41.1 439.8,42.2 440.0,42.7 440.2,43.7 440.4,44.2 440.6,45.4 440.8,46.1 441.0,46.4 441.2,47.9 441.3,48.4 441.5,48.8 441.7,50.1 441.9,50.9 442.0,52.1 442.2,52.1 442.3,53.4 442.5,53.9 442.6,54.9 442.8,55.4 442.9,56.2 443.1,57.2 443.2,57.5 443.3,58.0 443.5,59.4 443.6,60.1 443.7,61.0 443.8,62.0 443.9,62.5 444.0,63.8 444.1,64.2 444.2,65.0 444.3,66.1 444.4,66.8 444.5,67.4 444.6,68.2 444.8,68.8 444.9,69.6 445.0,70.6 445.1,71.6 445.2,72.0 445.3,73.2 445.4,74.4 445.6,75.2 445.7,75.4 445.8,76.5 446.0,77.1 446.1,78.0 446.3,78.8 446.4,79.5 446.6,80.3 446.7,80.9 446.9,81.6 447.0,82.5 447.2,83.4 447.3,84.4 447.5,85.0 447.6,85.9 447.8,86.8 447.9,86.9 448.1,87.9 448.2,88.9 448.4,89.6 448.5,90.1 448.7,91.4 448.8,91.9 449.0,92.4 449.1,94.1 449.3,93.9 449.4,95.1 449.6,95.7 449.7,96.7 449.9,97.6 450.0,98.0 450.2,99.0 450.4,99.8 450.5,100.3 450.7,101.7 450.9,102.2 451.1,102.9 451.2,103.5 451.4,104.4 451.6,105.3 451.8,105.9 452.0,107.2 452.2,106.9 452.4,107.8 452.6,109.1 452.8,109.4 453.0,110.7 453.2,111.3 453.4,112.5 453.6,113.2 453.8,114.3 454.0,114.9 454.2,115.8 454.4,116.4 454.6,117.3 454.8,117.9 455.0,118.4 455.2,119.0 455.3,119.8 455.5,121.0 455.7,121.0 456.0,122.5 456.2,123.0 456.4,124.2 456.6,124.8 456.9,125.3 457.1,126.3 457.4,126.4 457.7,127.9 458.0,128.7 458.3,128.7 458.6,130.3 458.9,130.7 459.2,131.6 459.5,131.8 459.8,133.2 460.1,133.9 460.5,134.5 460.8,134.9 461.1,136.2 461.4,137.1 461.8,137.5 462.2,138.4 462.5,138.7 462.9,139.6 463.3,140.4 463.7,141.0 464.1,142.5 464.5,142.5 465.0,142.8 465.4,143.9 465.9,143.9 466.5,145.0 467.0,145.7 467.6,145.9 468.2,146.5 468.8,146.8 469.4,147.6 470.1,147.9 470.7,149.1 471.4,149.2 472.1,149.3 472.8,149.4 473.5,150.8 474.2,151.0 474.9,151.1 475.7,151.4 476.4,151.7 477.2,151.8 477.9,152.8 478.7,152.5 479.4,152.2 480.2,152.6 481.0,152.2 481.8,153.3 482.6,153.5 483.4,153.9 484.2,154.1 485.0,153.4 485.8,153.9 486.6,154.2 487.4,154.2 488.2,154.0 489.0,154.5 489.8,154.5 490.6,154.9 491.4,154.5 492.2,154.6 492.9,154.6 493.7,154.7 494.5,154.6 495.3,154.8 496.1,155.1 497.0,155.2 497.8,155.5 498.6,155.5 499.4,155.4 500.2,154.9 501.0,155.5 501.8,155.7 502.6,155.0 503.4,155.1 504.2,155.2 505.0,155.2 505.8,155.5 506.6,155.3 507.4,155.7 508.2,155.3 509.0,155.7 509.8,155.6 510.6,155.5 511.4,156.1 512.2,155.9 513.0,156.1" fill="none" stroke="#f2e23a" stroke-width="1.1" stroke-linejoin="round" />
<text x="370.8" y="36.8" font-size="5.9" text-anchor="start" font-weight="bold" fill="#111" stroke="#111" stroke-width="0.18" textLength="43" lengthAdjust="spacingAndGlyphs" >BaO<tspan font-size="3.8" dy="1.2" stroke-width="0">bulk</tspan><tspan dy="-1.2"> in BaTiO3</tspan></text>
<polyline points="383.2,40.5 416.0,40.5 424.0,46.0 433.0,59.3" fill="none" stroke="#1a1a1a" stroke-width="1.1" stroke-dasharray="2.7 1.7"/>
<polygon points="433.0,59.3 428.5,56.5 432.1,54.1" fill="#1a1a1a"/>
<text x="341.7" y="121.3" font-size="5.9" text-anchor="start" font-weight="bold" fill="#111" stroke="#111" stroke-width="0.18" textLength="39.3" lengthAdjust="spacingAndGlyphs" >BaO on BaO<tspan font-size="3.8" dy="1.2" stroke-width="0">term</tspan></text>
<polyline points="336.0,124.3 370.0,124.3 392.1,147.4" fill="none" stroke="#1a1a1a" stroke-width="1.1" stroke-dasharray="2.7 1.7"/>
<polygon points="392.1,147.4 387.2,145.4 390.3,142.4" fill="#1a1a1a"/>
<rect x="34.5" y="214" width="166.1" height="154" fill="#aeaaaa" stroke="#111" stroke-width="1.2"/>
<line x1="34.5" y1="359.8" x2="39.0" y2="359.8" stroke="#111" stroke-width="1.1"/>
<text x="31.1" y="362.5" font-size="7.8" text-anchor="end" font-weight="bold" fill="#111" stroke="#111" stroke-width="0.18" >0.0</text>
<line x1="34.5" y1="328.2" x2="39.0" y2="328.2" stroke="#111" stroke-width="1.1"/>
<text x="31.1" y="330.9" font-size="7.8" text-anchor="end" font-weight="bold" fill="#111" stroke="#111" stroke-width="0.18" >0.5</text>
<line x1="34.5" y1="297" x2="39.0" y2="297" stroke="#111" stroke-width="1.1"/>
<text x="31.1" y="299.7" font-size="7.8" text-anchor="end" font-weight="bold" fill="#111" stroke="#111" stroke-width="0.18" >1.0</text>
<line x1="34.5" y1="266.6" x2="39.0" y2="266.6" stroke="#111" stroke-width="1.1"/>
<text x="31.1" y="269.3" font-size="7.8" text-anchor="end" font-weight="bold" fill="#111" stroke="#111" stroke-width="0.18" >1.5</text>
<line x1="34.5" y1="236.2" x2="39.0" y2="236.2" stroke="#111" stroke-width="1.1"/>
<text x="31.1" y="238.89999999999998" font-size="7.8" text-anchor="end" font-weight="bold" fill="#111" stroke="#111" stroke-width="0.18" >2.0</text>
<line x1="54.7" y1="368" x2="54.7" y2="364" stroke="#111" stroke-width="1.1"/>
<line x1="75.6" y1="368" x2="75.6" y2="364" stroke="#111" stroke-width="1.1"/>
<line x1="96.3" y1="368" x2="96.3" y2="364" stroke="#111" stroke-width="1.1"/>
<line x1="117" y1="368" x2="117" y2="364" stroke="#111" stroke-width="1.1"/>
<line x1="138" y1="368" x2="138" y2="364" stroke="#111" stroke-width="1.1"/>
<line x1="159" y1="368" x2="159" y2="364" stroke="#111" stroke-width="1.1"/>
<line x1="179.7" y1="368" x2="179.7" y2="364" stroke="#111" stroke-width="1.1"/>
<text x="75.6" y="377.5" font-size="7.8" text-anchor="middle" font-weight="bold" fill="#111" stroke="#111" stroke-width="0.18" textLength="12.6" lengthAdjust="spacingAndGlyphs" >532</text>
<text x="117" y="377.5" font-size="7.8" text-anchor="middle" font-weight="bold" fill="#111" stroke="#111" stroke-width="0.18" textLength="12.6" lengthAdjust="spacingAndGlyphs" >530</text>
<text x="159" y="377.5" font-size="7.8" text-anchor="middle" font-weight="bold" fill="#111" stroke="#111" stroke-width="0.18" textLength="12.6" lengthAdjust="spacingAndGlyphs" >528</text>
<text x="26" y="375.2" font-size="7.3" text-anchor="middle" font-weight="bold" fill="#111" stroke="#111" stroke-width="0.18" >0</text>
<text x="123" y="390.9" font-size="8.2" text-anchor="middle" font-weight="bold" fill="#111" stroke="#111" stroke-width="0.18" textLength="72.5" lengthAdjust="spacingAndGlyphs" >Binding Energy (eV)</text>
<text x="11" y="291.2" font-size="8.8" text-anchor="middle" font-weight="bold" fill="#111" stroke="#111" stroke-width="0.18" textLength="10.9" lengthAdjust="spacingAndGlyphs" >c/s</text>
<text x="20.2" y="212.8" font-size="8.3" font-weight="bold" fill="#111" stroke="#111" stroke-width="0.15"><tspan font-size="6.2" font-weight="normal" stroke="none" fill="#333">×</tspan><tspan dx="1.4">10</tspan><tspan font-size="4.8" dy="-3">4</tspan></text>
<text x="120" y="210.8" font-size="7.6" text-anchor="middle" font-weight="bold" fill="#111" stroke="#111" stroke-width="0.18" textLength="153.4" lengthAdjust="spacingAndGlyphs" >Δ O1s - (800°C<tspan font-size="11.5" dx="-1.1" stroke-width="0.45">→</tspan><tspan dx="-1.1">5</tspan>00°C)<tspan font-size="5.6" dy="1.4" stroke-width="0" fill="#111">ref</tspan><tspan dy="-1.4">-(1100°C<tspan font-size="11.5" dx="-1.1" stroke-width="0.45">→</tspan><tspan dx="-1.1">5</tspan>00°C)</tspan></text>
<line x1="96.5" y1="333.6" x2="96.5" y2="368" stroke="#262626" stroke-width="1.1" stroke-dasharray="1.9 1.3"/>
<line x1="122.5" y1="231" x2="122.5" y2="368" stroke="#262626" stroke-width="1.1" stroke-dasharray="1.9 1.3"/>
<line x1="140.5" y1="322" x2="140.5" y2="368" stroke="#262626" stroke-width="1.1" stroke-dasharray="1.9 1.3"/>
<polyline points="38.2,346.8 39.4,347.2 40.6,347.0 41.8,346.6 43.1,345.8 44.3,346.9 45.5,346.7 46.7,346.4 47.9,346.4 49.1,346.2 50.4,346.2 51.6,345.5 52.8,345.9 54.0,346.0 55.2,345.5 56.4,345.2 57.6,346.4 58.9,345.8 60.1,345.3 61.3,345.1 62.5,344.1 63.7,344.6 64.9,345.0 66.2,345.6 67.4,344.1 68.6,344.6 69.8,345.7 71.0,345.0 72.2,344.8 73.4,345.1 74.7,344.4 75.9,344.3 77.1,344.6 78.3,344.5 79.5,343.5 80.7,344.5 81.9,342.9 83.1,343.2 84.3,344.8 85.5,343.0 86.8,343.4 88.0,342.4 89.2,342.6 90.4,342.2 91.6,342.1 92.8,342.4 94.0,342.8 95.2,342.3 96.4,342.5 97.6,341.6 98.8,342.7 100.1,342.5 101.3,343.1 102.4,342.5 103.6,342.9 104.8,343.9 106.0,343.9 107.2,343.9 108.3,343.9 109.5,344.5 110.7,345.1 111.9,345.6 113.1,345.4 114.2,346.0 115.0,347.1 115.7,347.7 116.4,349.8 117.2,349.7 118.1,348.9 119.0,346.9 119.9,346.4 120.8,345.9 121.9,345.5 123.1,344.9 124.2,345.1 125.4,344.6 126.5,344.0 127.6,342.7 128.8,343.8 129.9,342.5 131.0,342.4 132.1,341.4 133.2,341.2 134.4,341.1 135.5,340.4 136.7,340.4 137.8,339.4 139.0,340.1 140.2,338.5 141.3,339.6 142.4,341.0 143.4,341.0 144.5,341.6 145.5,341.6 146.6,343.3 147.8,342.3 149.0,343.7 150.2,343.9 151.4,344.5 152.5,345.0 153.7,344.2 154.9,344.4 156.1,344.9 157.3,344.5 158.5,345.9 159.7,345.6 160.9,346.1 162.1,345.7 163.3,346.4 164.5,346.3 165.7,346.7 167.0,346.3 168.2,347.3 169.4,346.6 170.6,345.7 171.8,347.2 173.0,346.7 174.2,346.5 175.5,348.0 176.7,346.9 177.9,346.3 179.1,346.6 180.3,347.1 181.6,346.8 182.8,347.4 184.0,347.4" fill="none" stroke="#3fdede" stroke-width="1.3" stroke-linejoin="round" />
<polyline points="38.2,344.5 39.0,344.6 39.8,344.7 40.6,344.5 41.4,344.5 42.2,344.6 43.0,344.6 43.8,344.3 44.6,344.4 45.4,344.4 46.2,344.4 47.0,344.3 47.8,344.5 48.7,344.1 49.5,344.1 50.3,344.2 51.1,343.9 51.9,344.0 52.7,344.1 53.5,343.8 54.3,343.8 55.1,343.9 55.9,343.8 56.7,343.6 57.5,343.5 58.3,343.3 59.1,343.3 59.9,343.2 60.7,343.3 61.4,343.0 62.2,342.7 63.0,342.6 63.8,342.4 64.5,342.0 65.3,341.8 66.1,341.8 66.8,341.1 67.6,340.9 68.3,340.8 69.1,340.5 69.8,339.9 70.5,339.9 71.3,339.3 72.0,339.2 72.7,338.7 73.4,338.2 74.1,337.9 74.8,337.5 75.4,336.9 76.1,336.8 76.7,336.0 77.3,335.6 78.0,334.9 78.6,334.2 79.2,333.8 79.8,333.3 80.3,332.9 80.9,332.4 81.5,331.7 82.0,331.0 82.5,330.3 83.1,329.8 83.6,329.3 84.1,328.3 84.6,328.2 85.1,327.5 85.6,327.0 86.1,326.0 86.6,325.5 87.1,324.8 87.6,324.0 88.0,323.4 88.5,322.7 88.9,322.2 89.3,321.6 89.8,321.0 90.2,320.1 90.6,319.3 91.0,318.8 91.4,318.1 91.8,317.4 92.2,316.8 92.6,315.9 93.0,315.3 93.4,314.4 93.8,313.9 94.2,313.2 94.5,312.4 94.9,311.7 95.3,310.8 95.6,310.2 96.0,309.6 96.3,308.7 96.7,308.0 97.0,307.6 97.3,306.7 97.7,305.8 98.0,305.0 98.3,304.6 98.6,303.3 98.9,302.9 99.2,302.3 99.5,301.4 99.8,300.7 100.1,299.8 100.4,299.2 100.7,298.4 101.0,297.7 101.3,297.0 101.6,296.2 101.8,295.6 102.1,294.6 102.4,293.8 102.6,293.1 102.9,292.4 103.1,291.4 103.4,290.6 103.7,289.9 103.9,289.4 104.2,288.5 104.5,287.8 104.7,287.4 105.0,286.4 105.3,285.5 105.5,284.7 105.8,284.2 106.1,283.2 106.3,282.7 106.6,281.8 106.9,281.2 107.1,280.2 107.4,279.6 107.7,278.5 107.9,277.9 108.2,277.3 108.4,276.5 108.7,275.5 108.9,275.0 109.2,274.2 109.4,273.4 109.7,272.5 109.9,271.8 110.2,271.0 110.4,270.4 110.6,269.6 110.8,268.9 111.0,268.1 111.2,267.1 111.4,266.4 111.6,265.9 111.8,264.7 112.0,264.1 112.2,263.2 112.4,262.4 112.6,261.8 112.8,261.1 113.0,260.3 113.2,259.5 113.4,258.7 113.5,257.6 113.7,257.2 113.9,256.3 114.1,255.5 114.3,254.7 114.5,253.8 114.6,253.3 114.8,252.3 115.0,251.4 115.2,250.8 115.4,249.9 115.6,249.2 115.7,248.6 115.9,247.6 116.1,246.9 116.3,246.4 116.5,245.1 116.6,244.6 116.8,243.9 117.0,243.1 117.2,242.4 117.4,241.3 117.5,240.7 117.7,239.8 117.9,239.0 118.1,238.2 118.3,237.3 118.5,236.7 118.7,236.0 119.0,235.0 119.3,234.5 119.6,233.6 120.0,232.8 120.4,231.9 120.9,231.8 121.5,231.2 122.2,230.6 123.0,230.4 123.7,230.5 124.5,231.1 125.2,231.5 125.7,232.1 126.2,232.7 126.7,233.2 127.2,233.8 127.6,234.8 127.9,235.2 128.3,236.2 128.6,237.0 128.9,237.5 129.3,238.5 129.6,239.1 129.9,239.9 130.1,240.5 130.4,241.4 130.7,242.2 130.9,243.1 131.2,243.8 131.4,244.5 131.7,245.1 131.9,246.0 132.1,246.7 132.4,247.5 132.6,248.3 132.8,249.2 133.0,249.9 133.2,250.7 133.4,251.4 133.6,252.4 133.7,252.9 133.9,253.8 134.1,254.7 134.3,255.3 134.5,256.2 134.7,257.0 134.9,257.9 135.1,258.6 135.3,259.0 135.4,260.0 135.6,260.8 135.8,261.7 136.0,262.4 136.2,263.4 136.3,264.1 136.5,264.6 136.7,265.4 136.9,266.0 137.1,267.3 137.2,267.8 137.4,268.6 137.6,269.2 137.7,270.2 137.9,271.0 138.1,271.7 138.2,272.5 138.4,273.3 138.6,274.4 138.7,274.9 138.9,275.5 139.0,276.4 139.2,277.2 139.3,278.1 139.5,278.8 139.7,279.5 139.8,280.4 140.0,281.3 140.1,281.8 140.3,283.0 140.4,283.8 140.6,284.2 140.7,285.1 140.9,286.1 141.0,286.9 141.2,287.8 141.4,288.1 141.5,289.0 141.7,289.8 141.9,290.8 142.1,291.3 142.2,292.3 142.4,293.1 142.6,293.9 142.8,294.4 143.0,295.4 143.1,296.2 143.3,296.9 143.5,297.9 143.6,298.5 143.7,299.5 143.9,300.1 144.0,301.1 144.1,301.9 144.3,302.4 144.4,303.4 144.5,304.1 144.6,304.8 144.7,305.8 144.8,306.6 145.0,307.2 145.1,308.1 145.2,309.0 145.3,309.7 145.5,310.4 145.6,311.5 145.7,311.9 145.9,312.9 146.1,313.8 146.3,314.5 146.4,315.0 146.6,315.9 146.9,316.7 147.1,317.5 147.3,318.4 147.5,319.1 147.8,319.9 148.0,320.6 148.3,321.5 148.5,322.3 148.8,322.7 149.0,323.9 149.3,324.3 149.6,325.3 149.9,325.7 150.2,326.6 150.5,327.2 150.8,328.3 151.2,329.0 151.5,329.6 151.9,330.3 152.3,331.1 152.6,331.6 153.0,332.4 153.5,333.0 153.9,333.9 154.3,334.5 154.7,335.0 155.2,335.9 155.7,336.6 156.2,337.3 156.7,337.7 157.2,338.4 157.7,339.2 158.3,339.5 158.9,340.0 159.5,340.6 160.2,341.0 160.8,341.5 161.5,341.9 162.2,342.3 162.8,342.9 163.6,343.2 164.3,343.5 165.0,343.9 165.8,344.2 166.5,344.5 167.3,344.8 168.0,345.2 168.8,345.0 169.6,345.3 170.4,345.3 171.2,345.7 172.0,345.8 172.8,345.8 173.6,345.9 174.4,346.0 175.2,346.0 176.0,346.3 176.8,346.6 177.6,346.3 178.4,346.7 179.2,346.6 180.0,346.5 180.8,346.8 181.6,346.8 182.4,346.9 183.2,346.8 184.0,347.1" fill="none" stroke="#f0323a" stroke-width="1.1" stroke-linejoin="round" />
<polyline points="38.2,345.0 39.0,345.2 39.8,345.2 40.6,344.8 41.4,344.6 42.2,344.6 43.0,344.9 43.8,345.1 44.6,344.5 45.4,344.7 46.2,345.3 47.0,344.4 47.8,344.9 48.6,344.8 49.4,344.9 50.2,344.3 51.0,344.7 51.8,344.2 52.6,344.9 53.4,344.2 54.2,344.5 55.0,344.1 55.9,344.3 56.7,343.7 57.5,344.1 58.3,344.1 59.0,343.8 59.8,344.1 60.6,343.7 61.4,343.7 62.2,343.5 63.0,343.7 63.8,342.9 64.5,342.7 65.3,342.5 66.1,342.5 66.8,342.1 67.6,342.0 68.3,341.6 69.1,341.1 69.8,340.9 70.6,340.7 71.3,339.6 72.0,340.2 72.7,339.3 73.4,339.0 74.1,338.7 74.8,338.2 75.5,337.5 76.1,337.3 76.8,337.3 77.5,336.7 78.1,336.3 78.8,335.4 79.4,335.0 80.0,334.8 80.6,334.4 81.2,333.5 81.8,332.7 82.4,331.9 82.9,332.1 83.5,330.8 84.0,330.7 84.6,330.2 85.1,330.2 85.7,328.9 86.2,328.2 86.7,327.7 87.2,327.1 87.7,326.7 88.2,325.9 88.7,324.9 89.2,323.9 89.7,323.9 90.1,323.0 90.6,322.9 91.0,321.5 91.5,321.2 91.9,320.3 92.3,319.6 92.8,319.5 93.2,318.5 93.6,317.7 94.0,317.2 94.4,316.1 94.8,315.5 95.1,314.8 95.5,314.7 95.9,313.6 96.2,312.9 96.6,312.3 96.9,311.3 97.3,310.6 97.6,309.5 97.9,309.3 98.3,308.5 98.6,307.6 98.9,307.3 99.2,305.7 99.5,305.6 99.8,304.4 100.1,303.7 100.4,303.2 100.7,302.8 101.0,301.4 101.3,300.7 101.6,299.9 101.8,300.0 102.1,298.9 102.4,298.1 102.7,297.7 102.9,296.5 103.2,295.2 103.5,294.8 103.7,293.9 104.0,293.9 104.2,292.3 104.5,292.0 104.7,291.0 104.9,290.2 105.2,289.6 105.4,288.8 105.7,287.9 106.0,287.0 106.2,286.4 106.5,285.5 106.7,284.8 107.0,284.3 107.2,283.5 107.5,282.9 107.7,281.9 108.0,281.7 108.2,280.3 108.5,279.4 108.7,279.2 109.0,278.0 109.2,277.4 109.5,276.9 109.7,275.8 110.0,275.0 110.2,274.6 110.4,273.7 110.7,272.7 110.9,271.7 111.1,271.2 111.3,270.1 111.5,269.5 111.7,268.7 111.9,268.2 112.1,267.6 112.3,266.4 112.5,265.7 112.7,264.8 112.9,263.9 113.1,263.4 113.3,262.8 113.4,262.0 113.6,261.3 113.8,260.3 114.0,258.9 114.1,259.0 114.3,258.3 114.5,257.5 114.7,256.7 114.8,255.9 115.0,255.6 115.2,254.2 115.3,253.7 115.5,252.7 115.7,251.9 115.9,250.9 116.0,250.1 116.2,249.1 116.4,248.8 116.5,247.7 116.7,246.7 116.9,246.0 117.1,245.2 117.2,245.1 117.4,243.8 117.6,243.1 117.7,242.0 117.9,241.3 118.1,241.0 118.2,239.9 118.4,239.2 118.6,238.9 118.8,238.2 119.0,237.0 119.2,236.2 119.4,235.3 119.7,234.5 120.0,234.3 120.3,232.7 120.7,232.3 121.1,231.2 121.7,230.8 122.5,230.7 123.2,230.6 123.9,230.9 124.7,231.2 125.2,231.6 125.7,232.3 126.1,233.0 126.5,234.1 126.9,234.9 127.2,235.4 127.5,235.9 127.8,236.5 128.1,237.6 128.3,238.2 128.6,238.6 128.9,240.2 129.1,240.6 129.4,241.2 129.7,241.9 129.9,242.6 130.2,243.9 130.4,244.1 130.6,245.2 130.9,246.1 131.1,247.2 131.3,247.6 131.5,248.2 131.7,248.9 131.9,250.0 132.1,250.8 132.3,251.2 132.5,252.3 132.7,252.9 132.8,253.3 133.0,254.2 133.2,255.5 133.4,256.4 133.6,257.0 133.8,257.5 134.0,258.2 134.1,259.3 134.3,260.0 134.5,260.3 134.7,261.7 134.8,262.1 135.0,263.3 135.2,264.0 135.4,264.8 135.5,265.7 135.7,266.4 135.9,266.7 136.1,267.5 136.2,268.8 136.4,269.5 136.6,269.7 136.7,270.4 136.9,271.9 137.1,273.1 137.2,273.5 137.4,274.0 137.5,274.9 137.7,274.9 137.8,276.2 138.0,277.5 138.1,278.2 138.3,278.2 138.4,279.9 138.6,280.5 138.7,281.4 138.9,281.9 139.0,282.7 139.2,283.2 139.3,284.4 139.5,285.3 139.7,285.6 139.8,286.8 140.0,287.3 140.1,288.5 140.3,289.3 140.4,289.2 140.6,290.7 140.8,291.6 141.0,292.0 141.1,292.9 141.3,293.7 141.5,294.2 141.7,295.3 141.8,296.5 142.0,297.0 142.2,298.1 142.3,298.7 142.5,299.5 142.6,300.1 142.7,301.0 142.8,302.1 143.0,302.8 143.1,303.3 143.2,303.8 143.3,304.6 143.4,305.7 143.5,306.5 143.6,306.7 143.8,308.0 143.9,308.9 144.0,309.6 144.1,310.2 144.3,311.7 144.4,312.2 144.6,312.4 144.7,313.3 144.9,314.5 145.1,315.2 145.3,315.9 145.5,316.6 145.7,317.3 145.9,318.1 146.1,318.7 146.4,319.9 146.6,319.8 146.8,321.0 147.1,322.3 147.4,322.6 147.6,323.2 147.9,324.8 148.2,325.3 148.5,325.7 148.8,326.4 149.1,327.2 149.4,327.9 149.8,328.6 150.1,329.2 150.5,330.3 150.9,330.7 151.3,331.1 151.7,331.9 152.1,332.9 152.5,333.3 153.0,333.6 153.4,335.3 153.9,335.7 154.4,336.1 154.9,336.7 155.4,337.6 155.9,338.5 156.4,338.5 157.0,339.3 157.6,339.6 158.3,340.3 158.9,340.4 159.6,340.7 160.2,341.7 160.9,342.1 161.5,342.8 162.2,342.9 162.9,343.9 163.6,343.9 164.3,344.7 165.0,344.6 165.7,345.3 166.5,345.2 167.3,345.4 168.0,345.8 168.8,345.3 169.6,345.6 170.4,346.5 171.2,345.8 172.0,346.2 172.8,346.5 173.6,346.9 174.4,346.5 175.2,346.7 176.0,346.5 176.8,346.7 177.6,347.2 178.4,347.1 179.2,347.1 180.0,347.2 180.8,347.2 181.6,347.3 182.4,347.2 183.2,347.1 184.0,347.6" fill="none" stroke="#f2e23a" stroke-width="1.1" stroke-linejoin="round" />
<text x="71" y="242.6" font-size="6.2" text-anchor="start" font-weight="bold" fill="#111" stroke="#111" stroke-width="0.18" textLength="19" lengthAdjust="spacingAndGlyphs" >O1s<tspan font-size="3.8" dy="1.2" stroke-width="0">matt.I</tspan></text>
<polyline points="70.7,245.3 105.6,245.3 122.0,263.0" fill="none" stroke="#1a1a1a" stroke-width="1.1" stroke-dasharray="2.7 1.7"/>
<polygon points="122.0,263.0 117.1,260.9 120.3,258.0" fill="#1a1a1a"/>
<text x="63.6" y="312.6" font-size="6.2" text-anchor="start" font-weight="bold" fill="#111" stroke="#111" stroke-width="0.18" textLength="16.5" lengthAdjust="spacingAndGlyphs" >O1s<tspan font-size="3.8" dy="1.2" stroke-width="0">surf.</tspan></text>
<polyline points="61.0,315.8 81.4,315.8 96.0,333.6" fill="none" stroke="#1a1a1a" stroke-width="1.1" stroke-dasharray="2.7 1.7"/>
<polygon points="96.0,333.6 91.3,331.2 94.6,328.5" fill="#1a1a1a"/>
<text x="155.5" y="296.6" font-size="6.2" text-anchor="start" font-weight="bold" fill="#111" stroke="#111" stroke-width="0.18" textLength="20.5" lengthAdjust="spacingAndGlyphs" >O1s<tspan font-size="3.8" dy="1.2" stroke-width="0">matt.II</tspan></text>
<polyline points="176.3,299.3 152.0,299.3 142.0,317.8" fill="none" stroke="#1a1a1a" stroke-width="1.1" stroke-dasharray="2.7 1.7"/>
<polygon points="142.0,317.8 142.4,312.5 146.2,314.6" fill="#1a1a1a"/>
<rect x="247.4" y="211.4" width="205.70000000000002" height="156.6" fill="#aeaaaa" stroke="#111" stroke-width="1.2"/>
<line x1="247.4" y1="352" x2="252.4" y2="352" stroke="#111" stroke-width="1.1"/>
<text x="242.4" y="355.3" font-size="7.8" text-anchor="end" font-weight="bold" fill="#111" stroke="#111" stroke-width="0.18" >0</text>
<line x1="247.4" y1="320.2" x2="252.4" y2="320.2" stroke="#111" stroke-width="1.1"/>
<text x="242.4" y="323.5" font-size="7.8" text-anchor="end" font-weight="bold" fill="#111" stroke="#111" stroke-width="0.18" >100</text>
<line x1="247.4" y1="288.3" x2="252.4" y2="288.3" stroke="#111" stroke-width="1.1"/>
<text x="242.4" y="291.6" font-size="7.8" text-anchor="end" font-weight="bold" fill="#111" stroke="#111" stroke-width="0.18" >200</text>
<line x1="247.4" y1="256" x2="252.4" y2="256" stroke="#111" stroke-width="1.1"/>
<text x="242.4" y="259.3" font-size="7.8" text-anchor="end" font-weight="bold" fill="#111" stroke="#111" stroke-width="0.18" >300</text>
<line x1="247.4" y1="224" x2="252.4" y2="224" stroke="#111" stroke-width="1.1"/>
<text x="242.4" y="227.3" font-size="7.8" text-anchor="end" font-weight="bold" fill="#111" stroke="#111" stroke-width="0.18" >400</text>
<line x1="247.4" y1="336.2" x2="251.0" y2="336.2" stroke="#111" stroke-width="1.0"/>
<line x1="247.4" y1="304.2" x2="251.0" y2="304.2" stroke="#111" stroke-width="1.0"/>
<line x1="247.4" y1="272.2" x2="251.0" y2="272.2" stroke="#111" stroke-width="1.0"/>
<line x1="247.4" y1="240" x2="251.0" y2="240" stroke="#111" stroke-width="1.0"/>
<line x1="259.8" y1="368" x2="259.8" y2="364" stroke="#111" stroke-width="1.1"/>
<text x="259.8" y="378.2" font-size="7.8" text-anchor="middle" font-weight="bold" fill="#111" stroke="#111" stroke-width="0.18" >10</text>
<line x1="294.6" y1="368" x2="294.6" y2="364" stroke="#111" stroke-width="1.1"/>
<text x="294.6" y="378.2" font-size="7.8" text-anchor="middle" font-weight="bold" fill="#111" stroke="#111" stroke-width="0.18" >8</text>
<line x1="330" y1="368" x2="330" y2="364" stroke="#111" stroke-width="1.1"/>
<text x="330" y="378.2" font-size="7.8" text-anchor="middle" font-weight="bold" fill="#111" stroke="#111" stroke-width="0.18" >6</text>
<line x1="364.2" y1="368" x2="364.2" y2="364" stroke="#111" stroke-width="1.1"/>
<text x="364.2" y="378.2" font-size="7.8" text-anchor="middle" font-weight="bold" fill="#111" stroke="#111" stroke-width="0.18" >4</text>
<line x1="398.8" y1="368" x2="398.8" y2="364" stroke="#111" stroke-width="1.1"/>
<text x="398.8" y="378.2" font-size="7.8" text-anchor="middle" font-weight="bold" fill="#111" stroke="#111" stroke-width="0.18" >2</text>
<line x1="432.8" y1="368" x2="432.8" y2="364" stroke="#111" stroke-width="1.1"/>
<text x="432.8" y="378.2" font-size="7.8" text-anchor="middle" font-weight="bold" fill="#111" stroke="#111" stroke-width="0.18" >0</text>
<text x="342" y="391" font-size="8.2" text-anchor="middle" font-weight="bold" fill="#111" stroke="#111" stroke-width="0.18" textLength="73" lengthAdjust="spacingAndGlyphs" >Binding Energy (eV)</text>
<text transform="translate(220.4,274.2) rotate(-90)" font-size="8" font-weight="bold" text-anchor="middle" fill="#111" stroke="#111" stroke-width="0.15" textLength="55" lengthAdjust="spacingAndGlyphs">Intensity (a.u.)</text>
<text x="344.5" y="206.2" font-size="7.6" text-anchor="middle" font-weight="bold" fill="#111" stroke="#111" stroke-width="0.18" textLength="135" lengthAdjust="spacingAndGlyphs" >ΔVB - 800°C<tspan font-size="11.5" dx="-1.1" stroke-width="0.45">→</tspan><tspan dx="-1.1">5</tspan>00°C ; 1100°C<tspan font-size="11.5" dx="-1.1" stroke-width="0.45">→</tspan><tspan dx="-1.1">5</tspan>00°C</text>
<line x1="369" y1="311" x2="380.3" y2="348.4" stroke="#1a1a1a" stroke-width="1.0" stroke-dasharray="2.4 1.6"/>
<line x1="380.3" y1="348.4" x2="380.3" y2="368" stroke="#1a1a1a" stroke-width="1.0" stroke-dasharray="2.4 1.6"/>
<line x1="433.3" y1="348.4" x2="433.3" y2="368" stroke="#1a1a1a" stroke-width="1.0" stroke-dasharray="2.4 1.6"/>
<polyline points="251.0,347.1 252.6,348.8 254.2,349.5 255.8,349.3 257.4,349.7 259.0,347.1 260.6,348.4 262.2,347.3 263.8,347.5 265.4,346.3 267.0,346.9 268.6,350.2 270.2,350.2 271.8,351.4 273.4,351.5 275.0,351.1 276.6,347.8 278.2,349.5 279.8,351.7 281.4,353.4 283.0,349.0 284.6,348.7 286.2,348.9 287.8,355.3 289.4,352.3 291.0,349.4 292.6,347.8 294.2,351.2 295.8,344.4 297.4,348.7 299.0,347.4 300.6,347.2 302.2,349.6 303.8,350.3 305.4,354.5 307.0,349.5 308.6,351.3 310.2,346.7 311.8,344.0 313.4,352.7 315.0,354.5 316.6,346.0 318.2,348.8 319.8,352.5 321.4,349.4 323.0,343.7 324.6,352.3 326.2,348.8 327.8,351.6 329.4,346.4 331.0,352.2 332.6,352.8 334.2,347.4 335.8,351.2 337.4,347.8 339.0,348.3 340.6,347.1 342.2,348.6 343.8,347.9 345.4,353.7 347.0,349.7 348.6,347.2 350.2,355.2 351.8,352.9 353.4,354.0 355.0,349.8 356.6,349.7 358.2,347.4 359.8,345.1 361.4,345.1 363.0,344.3 364.6,343.8 366.2,344.1 367.8,342.1 369.4,344.5 371.0,344.3 372.6,345.4 374.2,346.4 375.8,346.6 377.4,346.6 380.0,347.6 381.2,347.5 382.4,347.6 383.6,347.7 384.8,347.5 386.0,347.3 387.2,347.5 388.4,347.6 389.6,347.6 390.8,347.3 392.0,347.2 393.2,347.4 394.4,347.4 395.6,347.6 396.8,347.5 398.0,347.6 399.2,347.5 400.4,347.8 401.6,347.5 402.8,347.6 404.0,347.4 405.2,347.6 406.4,347.7 407.6,347.6 408.8,347.7 410.0,347.4 411.2,347.6 412.4,347.8 413.6,347.5 414.8,347.5 416.0,347.5 417.2,347.4 418.4,347.5 419.6,347.7 420.8,347.6 422.0,347.5 423.2,347.4 424.4,347.3 425.6,347.9 426.8,347.4 428.0,347.5 429.2,347.4 430.4,347.5 431.6,347.4 432.8,347.5 434.0,347.7 435.2,347.4 436.4,347.6 437.6,347.5 438.8,347.6 440.0,347.4 441.2,347.6 442.4,347.4 443.6,347.2 444.8,347.3 446.0,347.4 447.2,347.3 448.4,347.5 449.6,347.7" fill="none" stroke="#3fdede" stroke-width="1.1" stroke-linejoin="round" />
<polyline points="251.0,335.5 252.5,336.0 254.0,335.9 255.5,335.7 257.0,335.6 258.5,335.8 260.0,335.5 261.5,334.8 262.9,334.4 264.3,334.0 265.7,333.0 267.1,332.8 268.5,332.2 269.8,331.9 271.1,330.1 272.3,329.4 273.5,328.8 274.6,327.6 275.7,326.6 276.8,325.6 277.8,324.4 278.8,323.3 279.6,322.4 280.3,319.6 280.9,319.8 281.5,316.4 282.1,317.8 282.7,315.8 283.2,313.3 283.7,313.1 284.2,310.8 284.7,309.8 285.2,308.6 285.7,306.9 286.2,305.2 286.7,304.2 287.1,302.2 287.6,300.7 288.1,298.8 288.6,296.8 289.0,297.7 289.5,295.7 290.0,292.8 290.5,292.6 290.9,291.0 291.4,287.9 291.9,287.4 292.3,286.5 292.8,286.3 293.2,284.5 293.6,283.1 294.0,281.0 294.4,280.0 294.8,277.0 295.3,276.9 295.8,275.5 296.3,272.7 296.9,272.4 297.4,271.9 298.0,270.8 298.5,269.0 299.1,266.1 299.6,265.1 300.2,263.4 300.7,263.2 301.2,260.4 301.7,258.8 302.2,257.0 302.7,256.8 303.2,255.6 303.7,253.4 304.2,251.9 304.7,250.8 305.2,250.5 305.7,247.2 306.3,246.7 306.8,245.5 307.5,244.2 308.1,243.5 308.8,241.8 309.4,240.1 310.1,239.5 310.7,237.9 311.3,236.0 312.0,234.6 312.6,232.2 313.2,231.8 313.9,229.7 314.5,228.1 315.1,227.4 315.8,225.0 316.4,224.2 317.0,223.1 317.6,222.3 318.2,220.3 318.8,219.4 319.5,219.0 320.4,217.3 321.7,215.2 323.2,214.5 324.7,215.4 325.6,216.4 326.2,217.2 326.7,218.8 327.1,220.2 327.5,222.5 328.0,225.3 328.5,227.0 329.0,226.5 329.5,228.3 329.9,229.1 330.4,230.3 330.8,232.9 331.2,234.4 331.6,235.4 331.9,237.7 332.3,238.5 332.7,241.0 333.2,241.3 333.7,243.6 334.2,244.3 334.7,246.0 335.3,247.7 335.8,247.8 336.3,249.6 336.8,251.5 337.4,252.8 338.0,254.5 338.6,255.1 339.4,256.0 340.3,258.2 341.1,259.7 342.2,260.0 343.4,262.3 344.6,262.8 345.9,263.8 347.1,264.7 348.3,264.4 349.5,267.4 350.6,266.4 351.8,268.1 353.2,269.1 354.6,269.4 355.8,270.1 357.0,270.5 357.7,272.0 358.0,273.8 358.2,276.2 358.6,276.3 359.2,278.6 359.8,279.9 360.3,281.0 360.9,282.0 361.4,283.7 361.9,284.0 362.4,286.8 362.8,288.4 363.3,289.2 363.8,291.4 364.3,292.7 364.8,293.4 365.3,295.9 365.8,296.3 366.3,299.8 366.7,298.9 367.1,300.5 367.5,302.1 367.9,304.1 368.3,306.2 368.6,307.0 369.0,308.1 369.3,311.2 369.7,312.0 370.1,312.6 370.4,314.1 370.8,314.6 371.3,317.1 371.7,319.8 372.1,319.2 372.5,320.5 373.0,323.0 373.4,322.7 373.9,326.7 374.4,326.1 374.9,328.1 375.4,329.9 375.9,332.3 376.5,333.1 377.0,333.0 377.6,334.5 378.3,337.0 379.0,337.9 379.9,339.5 380.8,340.6 381.9,342.0 383.0,343.0 384.3,343.2 385.6,344.4 387.1,344.9 388.5,345.1 390.0,345.2 391.5,344.8 393.0,344.7 394.5,344.5 396.0,344.5 397.5,344.5 399.0,344.1 400.5,344.0 402.0,344.3 403.5,343.6 405.0,343.9 406.6,344.4 408.1,344.7 409.6,344.1 411.1,344.2 412.6,343.8 414.1,343.9 415.6,343.9 417.1,343.9 418.6,344.3 420.1,344.4 421.6,344.7 423.1,344.7 424.6,344.7 426.1,345.1 427.6,345.3 429.1,345.2 430.6,345.7 432.1,345.6 433.6,345.6 435.1,345.8 436.6,345.9 438.1,345.9 439.6,346.4 441.1,346.5 442.7,346.3 444.2,346.5 445.7,346.5 447.2,346.7 448.7,346.9 450.2,346.6" fill="none" stroke="#f0323a" stroke-width="1.1" stroke-linejoin="round" />
<polyline points="250.3,335.6 251.8,335.5 253.3,335.8 254.8,336.2 256.3,335.2 257.8,334.6 259.3,335.0 260.8,334.0 262.2,334.8 263.6,333.4 265.0,333.0 266.4,332.6 267.8,331.9 269.1,330.9 270.4,330.2 271.6,329.8 272.8,328.3 273.9,328.2 275.0,326.5 276.1,324.4 277.1,324.6 278.1,321.3 278.9,322.2 279.6,322.8 280.2,320.2 280.8,316.6 281.4,315.5 282.0,314.9 282.5,315.0 283.0,311.3 283.5,311.8 284.0,309.5 284.5,307.7 285.0,306.2 285.5,306.6 286.0,302.0 286.4,301.0 286.9,301.6 287.4,300.2 287.9,296.5 288.3,295.4 288.8,293.8 289.3,294.0 289.7,291.4 290.2,292.1 290.7,290.0 291.1,288.0 291.6,286.5 292.0,285.4 292.5,284.3 292.9,282.0 293.3,280.8 293.7,279.8 294.1,277.5 294.5,277.2 295.1,274.6 295.6,272.6 296.1,272.1 296.7,272.2 297.3,270.6 297.8,266.1 298.4,266.6 298.9,264.4 299.4,263.2 300.0,261.7 300.5,260.4 301.0,258.7 301.5,257.5 302.0,256.6 302.5,253.8 303.0,252.3 303.5,251.0 304.0,249.6 304.5,249.9 305.0,246.7 305.5,246.4 306.1,245.1 306.7,244.4 307.4,242.3 308.1,242.0 308.7,239.5 309.3,238.5 310.0,237.6 310.6,234.0 311.2,234.5 311.9,234.2 312.5,231.5 313.2,229.8 313.8,230.5 314.4,227.4 315.0,227.1 315.7,222.1 316.3,223.2 316.9,221.2 317.4,220.7 318.0,220.1 318.7,217.4 319.7,216.2 321.0,212.8 322.5,216.2 324.0,217.0 324.9,216.9 325.5,217.7 326.0,220.0 326.4,222.1 326.8,223.2 327.3,226.1 327.7,224.9 328.2,225.5 328.7,228.8 329.2,231.0 329.7,230.7 330.1,232.6 330.5,233.4 330.8,234.3 331.2,236.2 331.6,236.4 332.0,240.2 332.5,241.8 333.0,243.6 333.5,243.3 334.0,244.9 334.6,245.3 335.1,246.9 335.6,250.7 336.1,254.1 336.7,251.6 337.2,253.6 337.9,256.3 338.7,256.0 339.5,258.5 340.4,258.9 341.4,260.0 342.6,262.1 343.9,261.8 345.1,261.7 346.3,264.7 347.5,264.8 348.7,265.1 349.9,265.8 351.1,268.1 352.4,267.6 353.8,269.0 355.1,270.7 356.3,270.6 356.9,273.0 357.3,272.0 357.5,275.5 357.9,276.9 358.5,279.7 359.1,279.2 359.6,281.5 360.2,281.8 360.7,282.4 361.2,284.0 361.6,285.6 362.1,288.5 362.6,288.4 363.0,290.6 363.5,292.9 364.0,294.7 364.6,295.8 365.1,297.8 365.6,296.6 366.0,298.7 366.4,300.9 366.8,303.2 367.2,304.0 367.5,304.2 367.9,306.2 368.3,306.3 368.6,310.2 369.0,309.1 369.3,312.5 369.7,314.8 370.1,316.1 370.5,315.1 370.9,318.3 371.4,319.2 371.8,320.7 372.3,324.1 372.7,324.2 373.2,323.9 373.7,325.7 374.2,328.9 374.7,329.8 375.2,329.9 375.7,330.8 376.3,333.3 376.8,334.8 377.5,337.4 378.3,337.8 379.1,339.3 380.1,340.6 381.1,341.1 382.2,342.3 383.5,343.6 384.9,343.9 386.3,344.4 387.7,345.0 389.2,344.9 390.7,345.2 392.2,345.2 393.7,345.8 395.2,345.7 396.7,345.8 398.2,345.4 399.7,346.2 401.2,346.1 402.8,345.8 404.3,346.2 405.8,345.5 407.3,346.0 408.8,345.6 410.3,346.5 411.8,345.3 413.3,345.6 414.8,345.7 416.3,346.1 417.8,346.2 419.3,346.2 420.8,346.2 422.4,346.7 423.9,346.2 425.4,346.5 426.9,346.9 428.4,346.4 429.9,346.5 431.4,347.0 432.9,346.9 434.4,346.6 435.9,346.9 437.4,347.3 438.9,346.9 440.4,347.2 442.0,347.1 443.5,346.9 445.0,347.4 446.5,347.3 448.0,347.4 449.5,347.2" fill="none" stroke="#f2e23a" stroke-width="1.1" stroke-linejoin="round" />
<line x1="380.3" y1="348.5" x2="433.3" y2="348.5" stroke="#1a1a1a" stroke-width="1.0" stroke-dasharray="2.4 1.6"/>
<rect x="375.2" y="329.3" width="69" height="21.5" fill="none" stroke="#3b64b8" stroke-width="0.85" stroke-dasharray="1.8 1.1"/>
<line x1="411.8" y1="329.4" x2="439.6" y2="299.2" stroke="#3f5fae" stroke-width="0.9"/>
<polygon points="441.2,297.4 439.9,301.2 437.5,299.0" fill="#3f5fae"/>
<line x1="385" y1="355" x2="430" y2="355" stroke="#2a2a2a" stroke-width="1.5"/>
<polygon points="382.0,355.0 386.6,353.0 386.6,357.0" fill="#2a2a2a"/>
<polygon points="433.0,355.0 428.4,357.0 428.4,353.0" fill="#2a2a2a"/>
<text x="405.9" y="362.8" font-size="7.6" text-anchor="middle" font-weight="normal" fill="#111" stroke="#111" stroke-width="0.12">BG</text>
<rect x="402.2" y="234.4" width="142.2" height="60.6" fill="#e7e6e6" stroke="#4a78c8" stroke-width="0.7" stroke-dasharray="1.2 1"/>
<polyline points="402.6,235.3 408.4,262.5 409.7,259.9 411.4,264.3 414.1,271.3 417.2,264.3 419.0,272.2 420.7,279.2 422.5,273.1 424.3,270.4 426.0,275.7 428.1,276.6 429.9,280.1 431.3,283.6 433.4,279.2 436.0,277.5 438.7,281.0 441.3,282.7 444.0,278.4 446.6,280.1 449.2,282.7 451.9,284.5 454.5,286.3 456.6,280.1 458.9,287.1 460.7,286.3 463.3,282.7 465.4,281.0 467.7,286.3 469.5,294.2 471.2,286.3 473.0,282.7 475.6,280.1 477.4,274.8 480.0,277.5 481.4,280.1 483.2,277.5 484.9,281.9 486.7,284.5 489.3,281.0 492.0,282.7 493.7,286.3 496.4,284.5 499.0,288.9 500.8,289.8 503.4,288.0 506.0,283.6 507.8,281.9 509.6,285.4 512.2,286.3 514.8,282.7 516.6,287.1 519.2,289.8 521.9,286.3 524.5,290.7 526.3,292.4 528.9,295.9 530.7,289.8 532.9,282.7 534.7,288.0 536.8,291.5 538.6,288.0 540.3,289.8 542.1,291.5 544.2,290.7" fill="none" stroke="#454545" stroke-width="0.9" stroke-linejoin="round" />
<polyline points="402.6,235.3 405.3,248.5 408.4,262.5 410.5,264.3 413.2,270.4 417.6,277.5 419.7,267.8 421.1,262.5 422.9,267.8 424.6,275.7 426.4,274.8 429.9,283.6 431.6,269.6 433.4,265.2 435.2,267.8 436.9,264.3 439.0,259.9 441.3,264.3 443.6,270.4 445.4,256.4 447.1,250.2 449.2,256.4 451.0,261.6 452.7,260.8 455.4,265.2 458.0,259.0 460.7,248.5 461.9,243.2 464.2,249.3 466.5,244.9 468.9,239.7 471.2,247.6 472.4,252.0 473.8,246.7 476.0,251.1 478.2,253.7 480.0,254.6 481.4,260.8 483.2,266.0 485.5,266.9 487.6,269.6 489.3,266.0 491.1,272.2 492.9,276.6 495.5,275.7 498.1,270.4 500.8,276.6 502.5,280.1 504.3,283.6 506.0,282.7 508.7,280.1 511.3,284.5 514.0,288.0 516.6,292.4 519.2,294.2 521.9,289.8 523.6,285.4 525.4,289.8 527.1,293.3 529.8,294.2 532.4,290.7 534.2,286.3 535.9,287.1 537.7,288.0 539.5,289.8 542.1,290.7 544.2,290.7" fill="none" stroke="#f03c3c" stroke-width="0.95" stroke-linejoin="round" />
<text x="431.2" y="244" font-size="7.8" text-anchor="middle" font-weight="bold" fill="#111" stroke="#111" stroke-width="0.18" textLength="13.4" lengthAdjust="spacingAndGlyphs" >1eV</text>
<line x1="414.6" y1="248.1" x2="447.6" y2="248.1" stroke="#3a3a3a" stroke-width="1.4"/>
<polygon points="411.8,248.1 416.0,246.2 416.0,250.0" fill="#3a3a3a"/>
<polygon points="450.4,248.1 446.2,250.0 446.2,246.2" fill="#3a3a3a"/>
<line x1="518.7" y1="240.8" x2="518.7" y2="258.6" stroke="#111" stroke-width="1.7"/>
<polygon points="518.7,262.6 516.5,257.7 520.9,257.7" fill="#111"/>
<text x="523.6" y="252" font-size="7.4" font-weight="bold" fill="#111">E<tspan font-size="4.4" dy="1.4">F</tspan></text>
</svg></body></html>
